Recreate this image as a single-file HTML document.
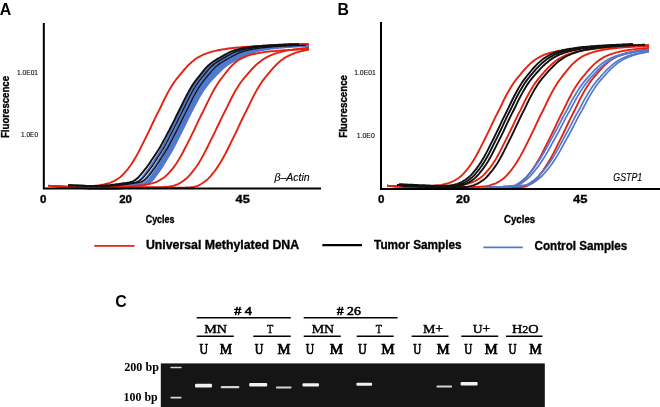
<!DOCTYPE html>
<html><head><meta charset="utf-8">
<style>
html,body{margin:0;padding:0;background:#fff;}
body{width:660px;height:407px;overflow:hidden;position:relative;}
svg{position:absolute;left:0;top:0;}
.sans{font-family:"Liberation Sans",sans-serif;}
.serif{font-family:"Liberation Serif",serif;}
</style></head><body>
<svg width="660" height="407" viewBox="0 0 660 407">
<g class="sans" font-weight="bold">
<text x="-0.2" y="15.3" font-size="15.9">A</text>
<text x="337.4" y="15.3" font-size="15.9">B</text>
<text x="115.3" y="306.8" font-size="15.9">C</text>
</g>
<g class="sans" fill="#000" stroke="#000" stroke-width="0.35" paint-order="stroke">
<text x="0" y="0" font-size="10.6" font-weight="bold" transform="translate(9.3 138) rotate(-90)" textLength="62" lengthAdjust="spacingAndGlyphs">Fluorescence</text>
<text x="0" y="0" font-size="10.6" font-weight="bold" transform="translate(346.6 137.8) rotate(-90)" textLength="62.8" lengthAdjust="spacingAndGlyphs">Fluorescence</text>
<text x="17" y="75.3" font-size="8" stroke-width="0.1" textLength="21" lengthAdjust="spacingAndGlyphs">1.0E01</text>
<text x="21" y="137" font-size="8" stroke-width="0.1" textLength="17" lengthAdjust="spacingAndGlyphs">1.0E0</text>
<text x="354.2" y="75.4" font-size="8" stroke-width="0.1" textLength="21.6" lengthAdjust="spacingAndGlyphs">1.0E01</text>
<text x="356.8" y="137.5" font-size="8" stroke-width="0.1" textLength="18" lengthAdjust="spacingAndGlyphs">1.0E0</text>
<g font-weight="bold" font-size="11.6">
<text x="40" y="203">0</text>
<text x="119.2" y="203" textLength="12.8" lengthAdjust="spacingAndGlyphs">20</text>
<text x="235.6" y="203" textLength="14.2" lengthAdjust="spacingAndGlyphs">45</text>
<text x="377.9" y="203">0</text>
<text x="456" y="203" textLength="14" lengthAdjust="spacingAndGlyphs">20</text>
<text x="573" y="203" textLength="14.4" lengthAdjust="spacingAndGlyphs">45</text>
</g>
<g font-weight="bold" font-size="10.4">
<text x="145.7" y="222.5" textLength="28.8" lengthAdjust="spacingAndGlyphs">Cycles</text>
<text x="504" y="222.7" textLength="31.2" lengthAdjust="spacingAndGlyphs">Cycles</text>
</g>
<g font-style="italic" font-size="10" stroke-width="0.12">
<text x="274.4" y="181" textLength="35.3" lengthAdjust="spacingAndGlyphs">&#946;&#8211;Actin</text>
<text x="613.3" y="180.8" textLength="29" lengthAdjust="spacingAndGlyphs">GSTP1</text>
</g>
<!-- legend -->
<g font-weight="bold" font-size="12.6">
<text x="145.9" y="248.9" textLength="153.2" lengthAdjust="spacingAndGlyphs">Universal Methylated DNA</text>
<text x="374.1" y="248.9" textLength="87.5" lengthAdjust="spacingAndGlyphs">Tumor Samples</text>
<text x="534.5" y="249.8" textLength="92.8" lengthAdjust="spacingAndGlyphs">Control Samples</text>
</g>
</g>
<g stroke-width="2.2" fill="none">
<path d="M94.3 245.9 H134.5" stroke="#e4220f" stroke-width="1.9"/>
<path d="M322.3 245.2 H362" stroke="#000"/>
<path d="M483.3 247.4 H522.8" stroke="#5079cf" stroke-width="1.7"/>
</g>
<!-- curves -->
<g>
<polyline points="196.0,82.2 197.5,80.2 199.0,78.3 200.5,76.6 202.0,74.9 203.5,73.2 205.0,71.5 206.5,69.9 208.0,68.3 209.5,66.8 211.0,65.3 212.5,64.0 214.0,62.7 215.5,61.5 217.0,60.4 218.5,59.3 220.0,58.3 221.5,57.4 223.0,56.7 224.5,55.9 226.0,55.2 227.5,54.6 229.0,54.0 230.5,53.5 232.0,53.0 233.5,52.6 235.0,52.1 236.5,51.7 238.0,51.3 239.5,51.0 241.0,50.7 242.5,50.4 244.0,50.1 245.5,49.8 247.0,49.6 248.5,49.4 250.0,49.1 251.5,48.9 253.0,48.7 254.5,48.5 256.0,48.4 257.5,48.2 259.0,48.0 260.5,47.9 262.0,47.7 263.5,47.6 265.0,47.5 266.5,47.3 268.0,47.2 269.5,47.1 271.0,47.0 272.5,46.9 274.0,46.8 275.5,46.7 277.0,46.6 278.5,46.5 280.0,46.4 281.5,46.4 283.0,46.3 284.5,46.2 286.0,46.1 287.5,46.1 289.0,46.0 290.5,45.9 292.0,45.8 293.5,45.8 295.0,45.7 296.5,45.6 298.0,45.6 299.5,45.5 301.0,45.4 302.5,45.4 304.0,45.3 305.5,45.3 307.0,45.2 308.5,45.2 309.0,45.1" fill="none" stroke="#e4220f" stroke-width="1.4" stroke-linejoin="round" stroke-linecap="butt"/>
<polyline points="75.0,187.9 76.0,187.9 77.0,187.9 78.0,187.9 79.0,187.9 80.0,187.9 81.0,187.9 82.0,187.9 83.0,188.0 84.0,188.0 85.0,188.0 86.0,188.0 87.0,188.1 88.0,188.1 89.0,188.2 90.0,188.2 91.0,188.3 92.0,188.3 93.0,188.3 94.0,188.4 95.0,188.4 96.0,188.5 97.0,188.5 98.0,188.5 99.0,188.6 100.0,188.6 101.0,188.6 102.0,188.6 103.0,188.6 104.0,188.7 105.0,188.7 106.0,188.7 107.0,188.7 108.0,188.7 109.0,188.7 110.0,188.8 111.0,188.8 112.0,188.8 113.0,188.8 114.0,188.8 115.0,188.7 116.0,188.7 117.0,188.6 118.0,188.6 119.0,188.5 120.0,188.4 121.0,188.3 122.0,188.3 123.0,188.2 124.0,188.1 125.0,188.0 126.0,187.8 127.0,187.7 128.0,187.6 129.0,187.4 130.0,187.3 131.0,187.2 132.0,187.0 133.0,186.9 134.0,186.7 135.0,186.5 136.0,186.4 137.0,186.2 138.0,186.0 139.0,185.9 140.0,185.7 141.0,185.6 142.0,185.4 143.0,185.2 144.0,185.1 145.0,184.8 146.0,184.6 147.0,184.2 148.0,183.7 149.0,183.0 150.0,182.3 151.0,181.5 152.0,180.6 153.0,179.5 154.0,178.3 155.0,176.9 156.0,175.5 157.0,174.2 158.0,172.8 159.0,171.5 160.0,170.0 161.0,168.6 162.0,167.1 163.0,165.5 164.0,163.8 165.0,162.1 166.0,160.4 167.0,158.7 168.0,157.1 169.0,155.4 170.0,153.8 171.0,152.2 172.0,150.4 173.0,148.6 174.0,146.7 175.0,144.7 176.0,142.7 177.0,140.7 178.0,138.7 179.0,136.8 180.0,134.8 181.0,132.8 182.0,130.8 183.0,128.8 184.0,126.8 185.0,124.7 186.0,122.7 187.0,120.6 188.0,118.5 189.0,116.5 190.0,114.6 191.0,112.6 192.0,110.7 193.0,108.8 194.0,106.9 195.0,105.0 196.0,103.1 197.0,101.2 198.0,99.4 199.0,97.6 200.0,95.8 201.0,94.2 202.0,92.6 203.0,91.0 204.0,89.5 205.0,88.1 206.0,86.7 207.0,85.4 208.0,84.1 209.0,82.9 210.0,81.7 211.0,80.6 212.0,79.5 213.0,78.4 214.0,77.4 215.0,76.3 216.0,75.3 217.0,74.2 218.0,73.2 219.0,72.2 220.0,71.2 221.0,70.2 222.0,69.2 223.0,68.3 224.0,67.4 225.0,66.6 226.0,65.8 227.0,65.2 228.0,64.5 229.0,63.9 230.0,63.2 231.0,62.7 232.0,62.1 233.0,61.5 234.0,61.0 235.0,60.5 236.0,60.0 237.0,59.5 238.0,59.0 239.0,58.5 240.0,58.1 241.0,57.6 242.0,57.1 243.0,56.7 244.0,56.2 245.0,55.7 246.0,55.3 247.0,54.8 248.0,54.3 249.0,53.9 250.0,53.5 251.0,53.1 252.0,52.7 253.0,52.4 254.0,52.1 255.0,51.8 256.0,51.5 257.0,51.3 258.0,51.0 259.0,50.8 260.0,50.5 261.0,50.3 262.0,50.1 263.0,49.9 264.0,49.7 265.0,49.5 266.0,49.4 267.0,49.2 268.0,49.0 269.0,48.9 270.0,48.8 271.0,48.6 272.0,48.5 273.0,48.4 274.0,48.3 275.0,48.1 276.0,48.0 277.0,47.9 278.0,47.8 279.0,47.7 280.0,47.6 281.0,47.5 282.0,47.4 283.0,47.4 284.0,47.3 285.0,47.2 286.0,47.1 287.0,47.0 288.0,47.0 289.0,46.9 290.0,46.8 291.0,46.8 292.0,46.7 293.0,46.6 294.0,46.6 295.0,46.5 296.0,46.5 297.0,46.4 298.0,46.3 299.0,46.3 300.0,46.2 301.0,46.2 302.0,46.1 303.0,46.1 304.0,46.0 305.0,46.0 306.0,45.9 307.0,45.9 308.0,45.8 309.0,45.8" fill="none" stroke="#5079cf" stroke-width="2.0" stroke-linejoin="round" stroke-linecap="butt"/>
<polyline points="75.0,187.9 76.0,187.9 77.0,187.9 78.0,187.9 79.0,187.9 80.0,187.9 81.0,187.9 82.0,188.0 83.0,188.0 84.0,188.0 85.0,188.1 86.0,188.1 87.0,188.1 88.0,188.2 89.0,188.2 90.0,188.3 91.0,188.3 92.0,188.4 93.0,188.4 94.0,188.4 95.0,188.5 96.0,188.5 97.0,188.5 98.0,188.6 99.0,188.6 100.0,188.6 101.0,188.6 102.0,188.6 103.0,188.7 104.0,188.7 105.0,188.7 106.0,188.7 107.0,188.7 108.0,188.7 109.0,188.8 110.0,188.8 111.0,188.8 112.0,188.8 113.0,188.7 114.0,188.7 115.0,188.7 116.0,188.6 117.0,188.5 118.0,188.5 119.0,188.4 120.0,188.3 121.0,188.2 122.0,188.1 123.0,188.0 124.0,187.9 125.0,187.8 126.0,187.7 127.0,187.5 128.0,187.4 129.0,187.3 130.0,187.1 131.0,187.0 132.0,186.8 133.0,186.7 134.0,186.5 135.0,186.3 136.0,186.2 137.0,186.0 138.0,185.8 139.0,185.7 140.0,185.5 141.0,185.4 142.0,185.2 143.0,185.0 144.0,184.8 145.0,184.5 146.0,184.1 147.0,183.5 148.0,182.9 149.0,182.1 150.0,181.3 151.0,180.4 152.0,179.3 153.0,178.0 154.0,176.6 155.0,175.2 156.0,173.9 157.0,172.6 158.0,171.2 159.0,169.8 160.0,168.3 161.0,166.8 162.0,165.2 163.0,163.5 164.0,161.8 165.0,160.1 166.0,158.4 167.0,156.8 168.0,155.2 169.0,153.6 170.0,151.9 171.0,150.1 172.0,148.3 173.0,146.3 174.0,144.4 175.0,142.4 176.0,140.4 177.0,138.4 178.0,136.5 179.0,134.5 180.0,132.5 181.0,130.5 182.0,128.5 183.0,126.5 184.0,124.4 185.0,122.3 186.0,120.2 187.0,118.2 188.0,116.2 189.0,114.2 190.0,112.2 191.0,110.2 192.0,108.3 193.0,106.4 194.0,104.5 195.0,102.5 196.0,100.6 197.0,98.7 198.0,96.9 199.0,95.2 200.0,93.5 201.0,91.8 202.0,90.3 203.0,88.7 204.0,87.3 205.0,85.9 206.0,84.5 207.0,83.3 208.0,82.0 209.0,80.9 210.0,79.7 211.0,78.6 212.0,77.5 213.0,76.4 214.0,75.3 215.0,74.3 216.0,73.2 217.0,72.1 218.0,71.1 219.0,70.0 220.0,69.1 221.0,68.1 222.0,67.2 223.0,66.4 224.0,65.6 225.0,64.9 226.0,64.2 227.0,63.6 228.0,63.0 229.0,62.4 230.0,61.8 231.0,61.2 232.0,60.7 233.0,60.2 234.0,59.6 235.0,59.1 236.0,58.6 237.0,58.1 238.0,57.7 239.0,57.2 240.0,56.7 241.0,56.2 242.0,55.7 243.0,55.2 244.0,54.8 245.0,54.3 246.0,53.9 247.0,53.4 248.0,53.0 249.0,52.6 250.0,52.3 251.0,52.0 252.0,51.7 253.0,51.4 254.0,51.2 255.0,50.9 256.0,50.7 257.0,50.4 258.0,50.2 259.0,50.0 260.0,49.8 261.0,49.6 262.0,49.4 263.0,49.2 264.0,49.1 265.0,48.9 266.0,48.8 267.0,48.6 268.0,48.5 269.0,48.4 270.0,48.3 271.0,48.1 272.0,48.0 273.0,47.9 274.0,47.8 275.0,47.7 276.0,47.6 277.0,47.5 278.0,47.4 279.0,47.3 280.0,47.2 281.0,47.2 282.0,47.1 283.0,47.0 284.0,46.9 285.0,46.9 286.0,46.8 287.0,46.7 288.0,46.7 289.0,46.6 290.0,46.5 291.0,46.5 292.0,46.4 293.0,46.3 294.0,46.3 295.0,46.2 296.0,46.2 297.0,46.1 298.0,46.1 299.0,46.0 300.0,46.0 301.0,45.9 302.0,45.9 303.0,45.8 304.0,45.8 305.0,45.7 306.0,45.7 307.0,45.7 308.0,45.6 309.0,45.6" fill="none" stroke="#5079cf" stroke-width="2.0" stroke-linejoin="round" stroke-linecap="butt"/>
<polyline points="75.0,187.9 76.0,187.9 77.0,187.9 78.0,187.9 79.0,187.9 80.0,187.9 81.0,188.0 82.0,188.0 83.0,188.0 84.0,188.1 85.0,188.1 86.0,188.1 87.0,188.2 88.0,188.2 89.0,188.3 90.0,188.3 91.0,188.4 92.0,188.4 93.0,188.5 94.0,188.5 95.0,188.5 96.0,188.5 97.0,188.6 98.0,188.6 99.0,188.6 100.0,188.6 101.0,188.7 102.0,188.7 103.0,188.7 104.0,188.7 105.0,188.7 106.0,188.7 107.0,188.7 108.0,188.8 109.0,188.8 110.0,188.8 111.0,188.8 112.0,188.7 113.0,188.7 114.0,188.7 115.0,188.6 116.0,188.5 117.0,188.5 118.0,188.4 119.0,188.3 120.0,188.2 121.0,188.1 122.0,188.0 123.0,187.9 124.0,187.8 125.0,187.7 126.0,187.5 127.0,187.4 128.0,187.2 129.0,187.1 130.0,187.0 131.0,186.8 132.0,186.6 133.0,186.5 134.0,186.3 135.0,186.1 136.0,186.0 137.0,185.8 138.0,185.7 139.0,185.5 140.0,185.4 141.0,185.2 142.0,185.0 143.0,184.7 144.0,184.5 145.0,184.0 146.0,183.5 147.0,182.8 148.0,182.1 149.0,181.3 150.0,180.3 151.0,179.2 152.0,177.9 153.0,176.5 154.0,175.2 155.0,173.8 156.0,172.5 157.0,171.1 158.0,169.7 159.0,168.2 160.0,166.7 161.0,165.1 162.0,163.4 163.0,161.7 164.0,160.0 165.0,158.3 166.0,156.7 167.0,155.1 168.0,153.5 169.0,151.8 170.0,150.1 171.0,148.2 172.0,146.3 173.0,144.3 174.0,142.3 175.0,140.3 176.0,138.4 177.0,136.4 178.0,134.4 179.0,132.4 180.0,130.4 181.0,128.4 182.0,126.4 183.0,124.3 184.0,122.2 185.0,120.1 186.0,118.1 187.0,116.0 188.0,114.0 189.0,112.0 190.0,110.0 191.0,108.1 192.0,106.1 193.0,104.2 194.0,102.2 195.0,100.2 196.0,98.3 197.0,96.5 198.0,94.7 199.0,93.0 200.0,91.3 201.0,89.7 202.0,88.2 203.0,86.7 204.0,85.3 205.0,83.9 206.0,82.7 207.0,81.4 208.0,80.2 209.0,79.1 210.0,77.9 211.0,76.8 212.0,75.7 213.0,74.6 214.0,73.5 215.0,72.4 216.0,71.3 217.0,70.2 218.0,69.2 219.0,68.2 220.0,67.3 221.0,66.4 222.0,65.6 223.0,64.9 224.0,64.2 225.0,63.5 226.0,62.9 227.0,62.3 228.0,61.7 229.0,61.1 230.0,60.6 231.0,60.0 232.0,59.5 233.0,59.0 234.0,58.5 235.0,58.0 236.0,57.5 237.0,57.0 238.0,56.5 239.0,56.0 240.0,55.5 241.0,55.0 242.0,54.5 243.0,54.0 244.0,53.6 245.0,53.1 246.0,52.7 247.0,52.4 248.0,52.0 249.0,51.7 250.0,51.5 251.0,51.2 252.0,50.9 253.0,50.7 254.0,50.4 255.0,50.2 256.0,50.0 257.0,49.8 258.0,49.6 259.0,49.4 260.0,49.2 261.0,49.0 262.0,48.9 263.0,48.7 264.0,48.6 265.0,48.5 266.0,48.3 267.0,48.2 268.0,48.1 269.0,48.0 270.0,47.9 271.0,47.7 272.0,47.6 273.0,47.5 274.0,47.5 275.0,47.4 276.0,47.3 277.0,47.2 278.0,47.1 279.0,47.0 280.0,46.9 281.0,46.9 282.0,46.8 283.0,46.7 284.0,46.7 285.0,46.6 286.0,46.5 287.0,46.5 288.0,46.4 289.0,46.3 290.0,46.3 291.0,46.2 292.0,46.2 293.0,46.1 294.0,46.1 295.0,46.0 296.0,46.0 297.0,45.9 298.0,45.9 299.0,45.8 300.0,45.8 301.0,45.7 302.0,45.7 303.0,45.6 304.0,45.6 305.0,45.6 306.0,45.5 307.0,45.5 308.0,45.5 309.0,45.4" fill="none" stroke="#5079cf" stroke-width="2.0" stroke-linejoin="round" stroke-linecap="butt"/>
<polyline points="75.0,187.9 76.0,187.9 77.0,187.9 78.0,187.9 79.0,188.0 80.0,188.0 81.0,188.0 82.0,188.0 83.0,188.1 84.0,188.1 85.0,188.2 86.0,188.2 87.0,188.3 88.0,188.3 89.0,188.3 90.0,188.4 91.0,188.4 92.0,188.5 93.0,188.5 94.0,188.5 95.0,188.6 96.0,188.6 97.0,188.6 98.0,188.6 99.0,188.6 100.0,188.7 101.0,188.7 102.0,188.7 103.0,188.7 104.0,188.7 105.0,188.7 106.0,188.7 107.0,188.8 108.0,188.8 109.0,188.8 110.0,188.8 111.0,188.7 112.0,188.7 113.0,188.6 114.0,188.6 115.0,188.5 116.0,188.4 117.0,188.4 118.0,188.3 119.0,188.2 120.0,188.1 121.0,188.0 122.0,187.9 123.0,187.8 124.0,187.6 125.0,187.5 126.0,187.4 127.0,187.2 128.0,187.1 129.0,186.9 130.0,186.8 131.0,186.6 132.0,186.5 133.0,186.3 134.0,186.1 135.0,185.9 136.0,185.8 137.0,185.6 138.0,185.5 139.0,185.3 140.0,185.2 141.0,185.0 142.0,184.7 143.0,184.4 144.0,184.0 145.0,183.4 146.0,182.7 147.0,182.0 148.0,181.2 149.0,180.2 150.0,179.0 151.0,177.7 152.0,176.4 153.0,175.0 154.0,173.7 155.0,172.3 156.0,171.0 157.0,169.5 158.0,168.1 159.0,166.6 160.0,164.9 161.0,163.3 162.0,161.6 163.0,159.9 164.0,158.2 165.0,156.6 166.0,155.0 167.0,153.4 168.0,151.7 169.0,150.0 170.0,148.1 171.0,146.2 172.0,144.2 173.0,142.2 174.0,140.2 175.0,138.3 176.0,136.3 177.0,134.3 178.0,132.3 179.0,130.3 180.0,128.3 181.0,126.3 182.0,124.2 183.0,122.1 184.0,120.0 185.0,117.9 186.0,115.9 187.0,113.8 188.0,111.8 189.0,109.8 190.0,107.8 191.0,105.8 192.0,103.9 193.0,101.8 194.0,99.9 195.0,97.9 196.0,96.0 197.0,94.3 198.0,92.5 199.0,90.8 200.0,89.2 201.0,87.6 202.0,86.1 203.0,84.7 204.0,83.4 205.0,82.1 206.0,80.8 207.0,79.6 208.0,78.4 209.0,77.2 210.0,76.1 211.0,75.0 212.0,73.8 213.0,72.7 214.0,71.5 215.0,70.4 216.0,69.4 217.0,68.3 218.0,67.4 219.0,66.5 220.0,65.7 221.0,64.9 222.0,64.2 223.0,63.5 224.0,62.9 225.0,62.2 226.0,61.6 227.0,61.0 228.0,60.4 229.0,59.9 230.0,59.3 231.0,58.8 232.0,58.3 233.0,57.8 234.0,57.3 235.0,56.7 236.0,56.2 237.0,55.7 238.0,55.2 239.0,54.7 240.0,54.2 241.0,53.7 242.0,53.3 243.0,52.9 244.0,52.5 245.0,52.1 246.0,51.8 247.0,51.5 248.0,51.2 249.0,51.0 250.0,50.7 251.0,50.4 252.0,50.2 253.0,50.0 254.0,49.8 255.0,49.6 256.0,49.4 257.0,49.2 258.0,49.0 259.0,48.9 260.0,48.7 261.0,48.6 262.0,48.4 263.0,48.3 264.0,48.2 265.0,48.0 266.0,47.9 267.0,47.8 268.0,47.7 269.0,47.6 270.0,47.5 271.0,47.4 272.0,47.3 273.0,47.2 274.0,47.1 275.0,47.0 276.0,47.0 277.0,46.9 278.0,46.8 279.0,46.7 280.0,46.7 281.0,46.6 282.0,46.5 283.0,46.5 284.0,46.4 285.0,46.3 286.0,46.3 287.0,46.2 288.0,46.2 289.0,46.1 290.0,46.1 291.0,46.0 292.0,45.9 293.0,45.9 294.0,45.8 295.0,45.8 296.0,45.8 297.0,45.7 298.0,45.7 299.0,45.6 300.0,45.6 301.0,45.5 302.0,45.5 303.0,45.5 304.0,45.4 305.0,45.4 306.0,45.4 307.0,45.3 308.0,45.3 309.0,45.3" fill="none" stroke="#5079cf" stroke-width="2.0" stroke-linejoin="round" stroke-linecap="butt"/>
<polyline points="75.0,187.9 76.0,187.9 77.0,187.9 78.0,188.0 79.0,188.0 80.0,188.0 81.0,188.0 82.0,188.1 83.0,188.1 84.0,188.2 85.0,188.2 86.0,188.3 87.0,188.3 88.0,188.3 89.0,188.4 90.0,188.4 91.0,188.5 92.0,188.5 93.0,188.5 94.0,188.6 95.0,188.6 96.0,188.6 97.0,188.6 98.0,188.6 99.0,188.7 100.0,188.7 101.0,188.7 102.0,188.7 103.0,188.7 104.0,188.7 105.0,188.7 106.0,188.8 107.0,188.8 108.0,188.8 109.0,188.8 110.0,188.7 111.0,188.7 112.0,188.6 113.0,188.6 114.0,188.5 115.0,188.4 116.0,188.4 117.0,188.3 118.0,188.2 119.0,188.1 120.0,188.0 121.0,187.9 122.0,187.8 123.0,187.6 124.0,187.5 125.0,187.4 126.0,187.2 127.0,187.1 128.0,186.9 129.0,186.8 130.0,186.6 131.0,186.5 132.0,186.3 133.0,186.1 134.0,186.0 135.0,185.8 136.0,185.7 137.0,185.5 138.0,185.4 139.0,185.2 140.0,185.0 141.0,184.7 142.0,184.4 143.0,184.0 144.0,183.5 145.0,182.8 146.0,182.1 147.0,181.3 148.0,180.3 149.0,179.2 150.0,177.9 151.0,176.5 152.0,175.2 153.0,173.9 154.0,172.5 155.0,171.2 156.0,169.7 157.0,168.3 158.0,166.8 159.0,165.2 160.0,163.5 161.0,161.8 162.0,160.1 163.0,158.5 164.0,156.8 165.0,155.2 166.0,153.6 167.0,152.0 168.0,150.3 169.0,148.4 170.0,146.5 171.0,144.5 172.0,142.5 173.0,140.6 174.0,138.6 175.0,136.6 176.0,134.7 177.0,132.7 178.0,130.7 179.0,128.7 180.0,126.6 181.0,124.5 182.0,122.4 183.0,120.3 184.0,118.3 185.0,116.2 186.0,114.1 187.0,112.1 188.0,110.1 189.0,108.1 190.0,106.1 191.0,104.1 192.0,102.1 193.0,100.1 194.0,98.1 195.0,96.2 196.0,94.4 197.0,92.6 198.0,90.9 199.0,89.2 200.0,87.6 201.0,86.1 202.0,84.7 203.0,83.3 204.0,82.0 205.0,80.7 206.0,79.5 207.0,78.3 208.0,77.1 209.0,76.0 210.0,74.8 211.0,73.6 212.0,72.5 213.0,71.3 214.0,70.2 215.0,69.1 216.0,68.1 217.0,67.2 218.0,66.3 219.0,65.5 220.0,64.7 221.0,64.0 222.0,63.3 223.0,62.6 224.0,62.0 225.0,61.4 226.0,60.8 227.0,60.2 228.0,59.7 229.0,59.1 230.0,58.6 231.0,58.1 232.0,57.5 233.0,57.0 234.0,56.5 235.0,56.0 236.0,55.4 237.0,54.9 238.0,54.4 239.0,53.9 240.0,53.5 241.0,53.0 242.0,52.6 243.0,52.2 244.0,51.9 245.0,51.6 246.0,51.3 247.0,51.0 248.0,50.8 249.0,50.5 250.0,50.3 251.0,50.0 252.0,49.8 253.0,49.6 254.0,49.4 255.0,49.2 256.0,49.0 257.0,48.9 258.0,48.7 259.0,48.6 260.0,48.4 261.0,48.3 262.0,48.2 263.0,48.0 264.0,47.9 265.0,47.8 266.0,47.7 267.0,47.6 268.0,47.5 269.0,47.4 270.0,47.3 271.0,47.2 272.0,47.1 273.0,47.0 274.0,47.0 275.0,46.9 276.0,46.8 277.0,46.7 278.0,46.7 279.0,46.6 280.0,46.5 281.0,46.5 282.0,46.4 283.0,46.3 284.0,46.3 285.0,46.2 286.0,46.1 287.0,46.1 288.0,46.0 289.0,46.0 290.0,45.9 291.0,45.9 292.0,45.8 293.0,45.8 294.0,45.7 295.0,45.7 296.0,45.7 297.0,45.6 298.0,45.6 299.0,45.5 300.0,45.5 301.0,45.4 302.0,45.4 303.0,45.4 304.0,45.3 305.0,45.3 306.0,45.3 307.0,45.2 308.0,45.2 309.0,45.2" fill="none" stroke="#5079cf" stroke-width="2.0" stroke-linejoin="round" stroke-linecap="butt"/>
<polyline points="75.0,187.2 76.0,187.2 77.0,187.2 78.0,187.3 79.0,187.3 80.0,187.4 81.0,187.4 82.0,187.4 83.0,187.5 84.0,187.5 85.0,187.6 86.0,187.6 87.0,187.7 88.0,187.7 89.0,187.7 90.0,187.8 91.0,187.8 92.0,187.8 93.0,187.8 94.0,187.8 95.0,187.9 96.0,187.9 97.0,187.9 98.0,187.9 99.0,187.9 100.0,187.9 101.0,188.0 102.0,188.0 103.0,188.0 104.0,188.0 105.0,188.0 106.0,188.0 107.0,187.9 108.0,187.9 109.0,187.8 110.0,187.8 111.0,187.7 112.0,187.6 113.0,187.6 114.0,187.5 115.0,187.4 116.0,187.3 117.0,187.2 118.0,187.1 119.0,187.0 120.0,186.8 121.0,186.7 122.0,186.6 123.0,186.4 124.0,186.3 125.0,186.2 126.0,186.0 127.0,185.9 128.0,185.7 129.0,185.5 130.0,185.4 131.0,185.2 132.0,185.1 133.0,184.9 134.0,184.8 135.0,184.6 136.0,184.4 137.0,184.2 138.0,184.0 139.0,183.7 140.0,183.3 141.0,182.8 142.0,182.1 143.0,181.4 144.0,180.6 145.0,179.7 146.0,178.6 147.0,177.3 148.0,176.0 149.0,174.7 150.0,173.4 151.0,172.1 152.0,170.7 153.0,169.3 154.0,167.9 155.0,166.4 156.0,164.9 157.0,163.2 158.0,161.6 159.0,159.9 160.0,158.3 161.0,156.7 162.0,155.1 163.0,153.5 164.0,151.9 165.0,150.2 166.0,148.4 167.0,146.5 168.0,144.5 169.0,142.6 170.0,140.6 171.0,138.7 172.0,136.7 173.0,134.8 174.0,132.8 175.0,130.8 176.0,128.8 177.0,126.8 178.0,124.7 179.0,122.6 180.0,120.5 181.0,118.4 182.0,116.3 183.0,114.3 184.0,112.2 185.0,110.2 186.0,108.1 187.0,106.1 188.0,104.1 189.0,102.0 190.0,99.9 191.0,97.9 192.0,95.9 193.0,94.0 194.0,92.2 195.0,90.4 196.0,88.7 197.0,87.1 198.0,85.5 199.0,84.0 200.0,82.6 201.0,81.3 202.0,79.9 203.0,78.7 204.0,77.4 205.0,76.2 206.0,75.0 207.0,73.8 208.0,72.6 209.0,71.4 210.0,70.2 211.0,69.0 212.0,68.0 213.0,66.9 214.0,66.0 215.0,65.1 216.0,64.3 217.0,63.6 218.0,62.8 219.0,62.1 220.0,61.5 221.0,60.8 222.0,60.2 223.0,59.6 224.0,59.0 225.0,58.5 226.0,57.9 227.0,57.3 228.0,56.8 229.0,56.3 230.0,55.7 231.0,55.2 232.0,54.6 233.0,54.1 234.0,53.5 235.0,53.0 236.0,52.6 237.0,52.1 238.0,51.7 239.0,51.4 240.0,51.0 241.0,50.7 242.0,50.4 243.0,50.2 244.0,49.9 245.0,49.6 246.0,49.4 247.0,49.2 248.0,48.9 249.0,48.7 250.0,48.5 251.0,48.4 252.0,48.2 253.0,48.0 254.0,47.9 255.0,47.7 256.0,47.6 257.0,47.5 258.0,47.3 259.0,47.2 260.0,47.1 261.0,47.0 262.0,46.9 263.0,46.8 264.0,46.7 265.0,46.6 266.0,46.5 267.0,46.4 268.0,46.3 269.0,46.2 270.0,46.1 271.0,46.1 272.0,46.0 273.0,45.9 274.0,45.8 275.0,45.8 276.0,45.7 277.0,45.6 278.0,45.6 279.0,45.5 280.0,45.4 281.0,45.4 282.0,45.3 283.0,45.3 284.0,45.2 285.0,45.2 286.0,45.1 287.0,45.1 288.0,45.0 289.0,45.0 290.0,44.9 291.0,44.9 292.0,44.8 293.0,44.8 294.0,44.8 295.0,44.7 296.0,44.7 297.0,44.6 298.0,44.6 299.0,44.6 300.0,44.5 301.0,44.5 302.0,44.5 303.0,44.4 304.0,44.4 305.0,44.4 306.0,44.4 307.0,44.3 308.0,44.3 309.0,44.3" fill="none" stroke="#5079cf" stroke-width="2.4" stroke-linejoin="round" stroke-linecap="butt"/>
<polyline points="75.0,187.4 76.0,187.4 77.0,187.5 78.0,187.5 79.0,187.6 80.0,187.6 81.0,187.7 82.0,187.7 83.0,187.7 84.0,187.7 85.0,187.8 86.0,187.8 87.0,187.8 88.0,187.8 89.0,187.8 90.0,187.9 91.0,187.9 92.0,187.9 93.0,187.9 94.0,187.9 95.0,187.9 96.0,188.0 97.0,188.0 98.0,188.0 99.0,188.0 100.0,188.0 101.0,188.0 102.0,187.9 103.0,187.9 104.0,187.8 105.0,187.8 106.0,187.7 107.0,187.6 108.0,187.5 109.0,187.5 110.0,187.4 111.0,187.3 112.0,187.2 113.0,187.1 114.0,187.0 115.0,186.8 116.0,186.7 117.0,186.6 118.0,186.4 119.0,186.3 120.0,186.2 121.0,186.0 122.0,185.9 123.0,185.7 124.0,185.6 125.0,185.4 126.0,185.2 127.0,185.1 128.0,184.9 129.0,184.8 130.0,184.6 131.0,184.5 132.0,184.3 133.0,184.1 134.0,183.8 135.0,183.5 136.0,183.0 137.0,182.4 138.0,181.7 139.0,181.0 140.0,180.2 141.0,179.2 142.0,178.0 143.0,176.7 144.0,175.4 145.0,174.1 146.0,172.9 147.0,171.6 148.0,170.3 149.0,168.9 150.0,167.5 151.0,166.0 152.0,164.5 153.0,162.9 154.0,161.3 155.0,159.6 156.0,158.0 157.0,156.5 158.0,154.9 159.0,153.4 160.0,151.8 161.0,150.1 162.0,148.4 163.0,146.5 164.0,144.6 165.0,142.7 166.0,140.8 167.0,138.9 168.0,137.0 169.0,135.1 170.0,133.1 171.0,131.2 172.0,129.2 173.0,127.2 174.0,125.2 175.0,123.1 176.0,121.1 177.0,119.0 178.0,116.9 179.0,114.9 180.0,112.8 181.0,110.8 182.0,108.7 183.0,106.7 184.0,104.7 185.0,102.6 186.0,100.5 187.0,98.4 188.0,96.4 189.0,94.5 190.0,92.7 191.0,90.8 192.0,89.1 193.0,87.4 194.0,85.8 195.0,84.3 196.0,82.8 197.0,81.4 198.0,80.1 199.0,78.8 200.0,77.5 201.0,76.2 202.0,75.0 203.0,73.8 204.0,72.5 205.0,71.3 206.0,70.1 207.0,68.9 208.0,67.8 209.0,66.8 210.0,65.8 211.0,65.0 212.0,64.1 213.0,63.4 214.0,62.6 215.0,61.9 216.0,61.3 217.0,60.6 218.0,60.0 219.0,59.4 220.0,58.8 221.0,58.2 222.0,57.6 223.0,57.1 224.0,56.5 225.0,56.0 226.0,55.4 227.0,54.8 228.0,54.3 229.0,53.7 230.0,53.2 231.0,52.7 232.0,52.3 233.0,51.8 234.0,51.5 235.0,51.1 236.0,50.8 237.0,50.5 238.0,50.2 239.0,49.9 240.0,49.7 241.0,49.4 242.0,49.2 243.0,48.9 244.0,48.7 245.0,48.5 246.0,48.4 247.0,48.2 248.0,48.0 249.0,47.9 250.0,47.7 251.0,47.6 252.0,47.4 253.0,47.3 254.0,47.2 255.0,47.1 256.0,46.9 257.0,46.8 258.0,46.7 259.0,46.6 260.0,46.5 261.0,46.4 262.0,46.3 263.0,46.3 264.0,46.2 265.0,46.1 266.0,46.0 267.0,45.9 268.0,45.9 269.0,45.8 270.0,45.7 271.0,45.7 272.0,45.6 273.0,45.5 274.0,45.5 275.0,45.4 276.0,45.3 277.0,45.3 278.0,45.2 279.0,45.2 280.0,45.1 281.0,45.1 282.0,45.0 283.0,45.0 284.0,44.9 285.0,44.9 286.0,44.8 287.0,44.8 288.0,44.8 289.0,44.7 290.0,44.7 291.0,44.6 292.0,44.6 293.0,44.6 294.0,44.5 295.0,44.5 296.0,44.5 297.0,44.4 298.0,44.4 299.0,44.4 300.0,44.4 301.0,44.3 302.0,44.3 303.0,44.3 304.0,44.3 305.0,44.3 306.0,44.2 307.0,44.2 308.0,44.2 309.0,44.2" fill="none" stroke="#5079cf" stroke-width="2.4" stroke-linejoin="round" stroke-linecap="butt"/>
<polyline points="48.5,185.9 50.0,186.0 51.5,186.1 53.0,186.2 54.5,186.3 56.0,186.4 57.5,186.5 59.0,186.6 60.5,186.7 62.0,186.8 63.5,186.8 65.0,186.9 66.5,187.0 68.0,187.1 69.5,187.2 71.0,187.3 72.5,187.3 74.0,187.4 75.5,187.4 77.0,187.4 78.5,187.3 80.0,187.2 81.5,187.1 83.0,187.0 84.5,186.9 86.0,186.8 87.5,186.7 89.0,186.5 90.5,186.4 92.0,186.2 93.5,186.0 95.0,185.8 96.5,185.7 98.0,185.5 99.5,185.3 101.0,185.0 102.5,184.7 104.0,184.4 105.5,184.0 107.0,183.7 108.5,183.2 110.0,182.8 111.5,182.2 113.0,181.5 114.5,180.8 116.0,179.9 117.5,179.0 119.0,178.0 120.5,176.9 122.0,175.5 123.5,174.0 125.0,172.3 126.5,170.6 128.0,168.8 129.5,166.8 131.0,164.8 132.5,162.5 134.0,160.1 135.5,157.6 137.0,154.9 138.5,152.1 140.0,149.2 141.5,146.2 143.0,143.2 144.5,140.2 146.0,137.2 147.5,134.2 149.0,131.1 150.5,127.9 152.0,124.7 153.5,121.5 155.0,118.4 156.5,115.3 158.0,112.4 159.5,109.5 161.0,106.3 162.5,103.2 164.0,100.0 165.5,97.1 167.0,94.2 168.5,91.4 170.0,88.8 171.5,86.3 173.0,83.9 174.5,81.7 176.0,79.7 177.5,77.8 179.0,75.9 180.5,74.1 182.0,72.3 183.5,70.5 185.0,68.8 186.5,67.1 188.0,65.5 189.5,64.1 191.0,62.7 192.5,61.4 194.0,60.2 195.5,59.0 197.0,58.0 198.5,57.1 200.0,56.3 201.5,55.5 203.0,54.8 204.5,54.2 206.0,53.6 207.5,53.1 209.0,52.6 210.5,52.1 212.0,51.7 213.5,51.3 215.0,50.9 216.5,50.6 218.0,50.3 219.5,50.0 221.0,49.7 222.5,49.4 224.0,49.2 225.5,49.0 227.0,48.7 228.5,48.5 230.0,48.3 231.5,48.2 233.0,48.0 234.5,47.8 236.0,47.7 237.5,47.5 239.0,47.4 240.5,47.3 242.0,47.1 243.5,47.0 245.0,46.9 246.5,46.8 248.0,46.7 249.5,46.6 251.0,46.5 252.5,46.4 254.0,46.3 255.5,46.2 257.0,46.2 258.5,46.1 260.0,46.0 261.5,45.9 263.0,45.8 264.5,45.8 266.0,45.7 267.5,45.6 269.0,45.6 270.5,45.5 272.0,45.4 273.5,45.4 275.0,45.3 276.5,45.2 278.0,45.2 279.5,45.1 281.0,45.1 282.5,45.0 284.0,45.0 285.5,44.9 287.0,44.9 288.5,44.8 290.0,44.8 291.5,44.7 293.0,44.7 294.5,44.6 296.0,44.6 297.5,44.6 299.0,44.5 300.5,44.5 302.0,44.5 303.5,44.4 305.0,44.4 306.5,44.4 308.0,44.3 309.0,44.3" fill="none" stroke="#e4220f" stroke-width="1.9" stroke-linejoin="round" stroke-linecap="butt"/>
<polyline points="48.5,185.8 50.0,185.9 51.5,185.9 53.0,186.0 54.5,186.1 56.0,186.1 57.5,186.2 59.0,186.3 60.5,186.3 62.0,186.4 63.5,186.5 65.0,186.5 66.5,186.6 68.0,186.7 69.5,186.7 71.0,186.8 72.5,186.9 74.0,186.9 75.5,186.9 77.0,186.9 78.5,186.9 80.0,186.9 81.5,186.9 83.0,186.9 84.5,186.9 86.0,186.9 87.5,186.9 89.0,186.9 90.5,186.9 92.0,187.0 93.5,187.0 95.0,187.0 96.5,187.0 98.0,187.0 99.5,187.1 101.0,187.1 102.5,187.1 104.0,187.1 105.5,187.1 107.0,187.1 108.5,187.1 110.0,187.1 111.5,187.1 113.0,187.1 114.5,187.1 116.0,187.1 117.5,187.1 119.0,187.1 120.5,187.1 122.0,187.1 123.5,187.0 125.0,186.9 126.5,186.8 128.0,186.7 129.5,186.6 131.0,186.5 132.5,186.3 134.0,186.2 135.5,186.0 137.0,185.8 138.5,185.7 140.0,185.5 141.5,185.3 143.0,185.1 144.5,184.9 146.0,184.6 147.5,184.4 149.0,184.0 150.5,183.7 152.0,183.3 153.5,182.8 155.0,182.3 156.5,181.8 158.0,181.1 159.5,180.3 161.0,179.4 162.5,178.5 164.0,177.5 165.5,176.3 167.0,174.9 168.5,173.3 170.0,171.6 171.5,169.9 173.0,168.1 174.5,166.1 176.0,164.0 177.5,161.7 179.0,159.3 180.5,156.7 182.0,154.0 183.5,151.2 185.0,148.3 186.5,145.3 188.0,142.3 189.5,139.3 191.0,136.4 192.5,133.4 194.0,130.3 195.5,127.1 197.0,123.9 198.5,120.7 200.0,117.6 201.5,114.5 203.0,111.7 204.5,108.7 206.0,105.5 207.5,102.3 209.0,99.3 210.5,96.3 212.0,93.4 213.5,90.7 215.0,88.0 216.5,85.5 218.0,83.2 219.5,81.0 221.0,78.9 222.5,77.0 224.0,75.0 225.5,73.1 227.0,71.1 228.5,69.3 230.0,67.6 231.5,66.0 233.0,64.6 234.5,63.2 236.0,61.9 237.5,60.8 239.0,59.8 240.5,58.9 242.0,58.2 243.5,57.4 245.0,56.8 246.5,56.2 248.0,55.7 249.5,55.2 251.0,54.7 252.5,54.3 254.0,54.0 255.5,53.7 257.0,53.4 258.5,53.1 260.0,52.8 261.5,52.6 263.0,52.3 264.5,52.1 266.0,51.9 267.5,51.7 269.0,51.5 270.5,51.4 272.0,51.2 273.5,51.1 275.0,51.0 276.5,50.8 278.0,50.7 279.5,50.6 281.0,50.5 282.5,50.4 284.0,50.3 285.5,50.2 287.0,50.1 288.5,50.0 290.0,49.9 291.5,49.9 293.0,49.8 294.5,49.7 296.0,49.6 297.5,49.5 299.0,49.5 300.5,49.4 302.0,49.3 303.5,49.3 305.0,49.2 306.5,49.1 308.0,49.1 309.0,49.1" fill="none" stroke="#e4220f" stroke-width="1.9" stroke-linejoin="round" stroke-linecap="butt"/>
<polyline points="48.5,185.8 50.0,185.9 51.5,186.0 53.0,186.0 54.5,186.1 56.0,186.2 57.5,186.3 59.0,186.4 60.5,186.5 62.0,186.5 63.5,186.6 65.0,186.7 66.5,186.8 68.0,186.9 69.5,187.0 71.0,187.1 72.5,187.1 74.0,187.2 75.5,187.2 77.0,187.2 78.5,187.2 80.0,187.2 81.5,187.2 83.0,187.2 84.5,187.2 86.0,187.2 87.5,187.2 89.0,187.2 90.5,187.2 92.0,187.2 93.5,187.2 95.0,187.2 96.5,187.2 98.0,187.2 99.5,187.2 101.0,187.2 102.5,187.2 104.0,187.2 105.5,187.2 107.0,187.2 108.5,187.2 110.0,187.2 111.5,187.2 113.0,187.2 114.5,187.2 116.0,187.2 117.5,187.2 119.0,187.2 120.5,187.2 122.0,187.2 123.5,187.2 125.0,187.2 126.5,187.2 128.0,187.2 129.5,187.2 131.0,187.2 132.5,187.2 134.0,187.2 135.5,187.2 137.0,187.2 138.5,187.2 140.0,187.2 141.5,187.2 143.0,187.2 144.5,187.2 146.0,187.2 147.5,187.2 149.0,187.2 150.5,187.2 152.0,187.2 153.5,187.2 155.0,187.2 156.5,187.2 158.0,187.1 159.5,187.1 161.0,187.1 162.5,187.1 164.0,187.0 165.5,187.0 167.0,186.9 168.5,186.7 170.0,186.5 171.5,186.3 173.0,185.9 174.5,185.5 176.0,185.0 177.5,184.3 179.0,183.6 180.5,182.7 182.0,181.8 183.5,180.8 185.0,179.6 186.5,178.4 188.0,177.0 189.5,175.4 191.0,173.6 192.5,171.7 194.0,169.8 195.5,167.8 197.0,165.7 198.5,163.4 200.0,161.0 201.5,158.4 203.0,155.7 204.5,152.9 206.0,150.0 207.5,147.0 209.0,143.9 210.5,140.9 212.0,137.9 213.5,134.9 215.0,131.9 216.5,128.7 218.0,125.5 219.5,122.3 221.0,119.2 222.5,116.1 224.0,113.1 225.5,110.3 227.0,107.2 228.5,104.1 230.0,101.0 231.5,98.0 233.0,95.2 234.5,92.4 236.0,89.8 237.5,87.4 239.0,85.0 240.5,82.8 242.0,80.7 243.5,78.8 245.0,77.1 246.5,75.3 248.0,73.6 249.5,71.9 251.0,70.2 252.5,68.5 254.0,67.0 255.5,65.5 257.0,64.1 258.5,62.9 260.0,61.7 261.5,60.5 263.0,59.4 264.5,58.5 266.0,57.6 267.5,56.8 269.0,56.1 270.5,55.4 272.0,54.8 273.5,54.2 275.0,53.7 276.5,53.2 278.0,52.7 279.5,52.3 281.0,51.9 282.5,51.6 284.0,51.2 285.5,50.9 287.0,50.6 288.5,50.4 290.0,50.1 291.5,49.9 293.0,49.6 294.5,49.4 296.0,49.2 297.5,49.0 299.0,48.8 300.5,48.7 302.0,48.5 303.5,48.3 305.0,48.2 306.5,48.0 308.0,47.9 309.0,47.8" fill="none" stroke="#e4220f" stroke-width="1.9" stroke-linejoin="round" stroke-linecap="butt"/>
<polyline points="48.5,185.8 50.0,185.9 51.5,186.0 53.0,186.1 54.5,186.2 56.0,186.3 57.5,186.4 59.0,186.6 60.5,186.7 62.0,186.8 63.5,186.9 65.0,187.0 66.5,187.1 68.0,187.2 69.5,187.3 71.0,187.4 72.5,187.5 74.0,187.6 75.5,187.6 77.0,187.6 78.5,187.6 80.0,187.6 81.5,187.6 83.0,187.6 84.5,187.6 86.0,187.6 87.5,187.6 89.0,187.6 90.5,187.6 92.0,187.6 93.5,187.6 95.0,187.6 96.5,187.6 98.0,187.6 99.5,187.6 101.0,187.6 102.5,187.6 104.0,187.6 105.5,187.6 107.0,187.6 108.5,187.6 110.0,187.6 111.5,187.6 113.0,187.6 114.5,187.6 116.0,187.6 117.5,187.6 119.0,187.6 120.5,187.6 122.0,187.6 123.5,187.6 125.0,187.6 126.5,187.6 128.0,187.6 129.5,187.6 131.0,187.6 132.5,187.6 134.0,187.6 135.5,187.6 137.0,187.6 138.5,187.6 140.0,187.6 141.5,187.6 143.0,187.6 144.5,187.6 146.0,187.6 147.5,187.6 149.0,187.6 150.5,187.6 152.0,187.6 153.5,187.6 155.0,187.6 156.5,187.6 158.0,187.6 159.5,187.6 161.0,187.6 162.5,187.6 164.0,187.6 165.5,187.6 167.0,187.6 168.5,187.6 170.0,187.6 171.5,187.6 173.0,187.6 174.5,187.6 176.0,187.6 177.5,187.6 179.0,187.6 180.5,187.6 182.0,187.6 183.5,187.6 185.0,187.6 186.5,187.5 188.0,187.5 189.5,187.4 191.0,187.3 192.5,187.2 194.0,186.9 195.5,186.5 197.0,186.1 198.5,185.5 200.0,184.7 201.5,183.8 203.0,182.8 204.5,181.8 206.0,180.6 207.5,179.4 209.0,177.9 210.5,176.3 212.0,174.4 213.5,172.5 215.0,170.6 216.5,168.6 218.0,166.4 219.5,164.1 221.0,161.6 222.5,159.0 224.0,156.3 225.5,153.5 227.0,150.5 228.5,147.5 230.0,144.5 231.5,141.4 233.0,138.4 234.5,135.4 236.0,132.3 237.5,129.1 239.0,125.9 240.5,122.7 242.0,119.5 243.5,116.4 245.0,113.4 246.5,110.5 248.0,107.4 249.5,104.3 251.0,101.1 252.5,98.1 254.0,95.2 255.5,92.4 257.0,89.7 258.5,87.2 260.0,84.7 261.5,82.5 263.0,80.3 264.5,78.4 266.0,76.5 267.5,74.7 269.0,72.9 270.5,71.1 272.0,69.3 273.5,67.7 275.0,66.1 276.5,64.5 278.0,63.1 279.5,61.8 281.0,60.6 282.5,59.4 284.0,58.3 285.5,57.4 287.0,56.6 288.5,55.8 290.0,55.1 291.5,54.4 293.0,53.8 294.5,53.2 296.0,52.7 297.5,52.2 299.0,51.8 300.5,51.4 302.0,51.0 303.5,50.7 305.0,50.4 306.5,50.1 308.0,49.8 309.0,49.6" fill="none" stroke="#e4220f" stroke-width="1.9" stroke-linejoin="round" stroke-linecap="butt"/>
<polyline points="68.0,185.2 69.0,185.2 70.0,185.2 71.0,185.2 72.0,185.2 73.0,185.2 74.0,185.2 75.0,185.2 76.0,185.2 77.0,185.2 78.0,185.3 79.0,185.3 80.0,185.3 81.0,185.4 82.0,185.4 83.0,185.4 84.0,185.5 85.0,185.5 86.0,185.6 87.0,185.6 88.0,185.7 89.0,185.7 90.0,185.7 91.0,185.8 92.0,185.8 93.0,185.8 94.0,185.8 95.0,185.8 96.0,185.9 97.0,185.9 98.0,185.9 99.0,185.9 100.0,185.9 101.0,186.0 102.0,186.0 103.0,186.0 104.0,186.0 105.0,186.0 106.0,186.0 107.0,186.0 108.0,186.0 109.0,186.0 110.0,185.9 111.0,185.9 112.0,185.8 113.0,185.8 114.0,185.7 115.0,185.6 116.0,185.5 117.0,185.5 118.0,185.4 119.0,185.3 120.0,185.2 121.0,185.0 122.0,184.9 123.0,184.8 124.0,184.7 125.0,184.5 126.0,184.4 127.0,184.3 128.0,184.1 129.0,184.0 130.0,183.8 131.0,183.7 132.0,183.5 133.0,183.3 134.0,183.2 135.0,183.0 136.0,182.9 137.0,182.8 138.0,182.6 139.0,182.4 140.0,182.2 141.0,181.9 142.0,181.5 143.0,180.9 144.0,180.3 145.0,179.6 146.0,178.8 147.0,177.9 148.0,176.8 149.0,175.6 150.0,174.3 151.0,173.0 152.0,171.8 153.0,170.5 154.0,169.2 155.0,167.8 156.0,166.4 157.0,165.0 158.0,163.4 159.0,161.9 160.0,160.2 161.0,158.6 162.0,157.0 163.0,155.4 164.0,153.9 165.0,152.3 166.0,150.7 167.0,149.1 168.0,147.3 169.0,145.4 170.0,143.5 171.0,141.6 172.0,139.7 173.0,137.7 174.0,135.8 175.0,133.9 176.0,132.0 177.0,130.0 178.0,128.0 179.0,126.0 180.0,124.0 181.0,121.9 182.0,119.8 183.0,117.8 184.0,115.7 185.0,113.7 186.0,111.7 187.0,109.7 188.0,107.7 189.0,105.7 190.0,103.7 191.0,101.6 192.0,99.6 193.0,97.6 194.0,95.7 195.0,93.9 196.0,92.1 197.0,90.4 198.0,88.7 199.0,87.1 200.0,85.6 201.0,84.2 202.0,82.8 203.0,81.5 204.0,80.2 205.0,78.9 206.0,77.7 207.0,76.5 208.0,75.3 209.0,74.2 210.0,73.0 211.0,71.8 212.0,70.6 213.0,69.5 214.0,68.5 215.0,67.4 216.0,66.5 217.0,65.7 218.0,64.9 219.0,64.1 220.0,63.4 221.0,62.7 222.0,62.1 223.0,61.5 224.0,60.8 225.0,60.3 226.0,59.7 227.0,59.1 228.0,58.6 229.0,58.0 230.0,57.5 231.0,57.0 232.0,56.4 233.0,55.9 234.0,55.4 235.0,54.8 236.0,54.3 237.0,53.8 238.0,53.3 239.0,52.9 240.0,52.5 241.0,52.1 242.0,51.8 243.0,51.5 244.0,51.2 245.0,50.9 246.0,50.6 247.0,50.4 248.0,50.1 249.0,49.9 250.0,49.7 251.0,49.5 252.0,49.3 253.0,49.1 254.0,48.9 255.0,48.8 256.0,48.6 257.0,48.5 258.0,48.3 259.0,48.2 260.0,48.1 261.0,47.9 262.0,47.8 263.0,47.7 264.0,47.6 265.0,47.5 266.0,47.4 267.0,47.3 268.0,47.2 269.0,47.1 270.0,47.0 271.0,47.0 272.0,46.9 273.0,46.8 274.0,46.7 275.0,46.6 276.0,46.6 277.0,46.5 278.0,46.4 279.0,46.4 280.0,46.3 281.0,46.2 282.0,46.2 283.0,46.1 284.0,46.1 285.0,46.0 286.0,46.0 287.0,45.9 288.0,45.9 289.0,45.8 290.0,45.8 291.0,45.7 292.0,45.7 293.0,45.6 294.0,45.6 295.0,45.5 296.0,45.5 297.0,45.5 298.0,45.4 299.0,45.4 300.0,45.3 301.0,45.3 302.0,45.3 303.0,45.2 304.0,45.2 305.0,45.2 306.0,45.1" fill="none" stroke="#111111" stroke-width="1.35" stroke-linejoin="round" stroke-linecap="butt"/>
<polyline points="68.0,185.2 69.0,185.2 70.0,185.2 71.0,185.2 72.0,185.2 73.0,185.3 74.0,185.3 75.0,185.3 76.0,185.4 77.0,185.4 78.0,185.4 79.0,185.5 80.0,185.5 81.0,185.6 82.0,185.6 83.0,185.6 84.0,185.7 85.0,185.7 86.0,185.7 87.0,185.8 88.0,185.8 89.0,185.8 90.0,185.8 91.0,185.9 92.0,185.9 93.0,185.9 94.0,185.9 95.0,185.9 96.0,185.9 97.0,186.0 98.0,186.0 99.0,186.0 100.0,186.0 101.0,186.0 102.0,186.0 103.0,186.0 104.0,186.0 105.0,186.0 106.0,185.9 107.0,185.9 108.0,185.8 109.0,185.7 110.0,185.7 111.0,185.6 112.0,185.5 113.0,185.4 114.0,185.3 115.0,185.2 116.0,185.1 117.0,185.0 118.0,184.9 119.0,184.8 120.0,184.6 121.0,184.5 122.0,184.4 123.0,184.2 124.0,184.1 125.0,183.9 126.0,183.8 127.0,183.6 128.0,183.5 129.0,183.3 130.0,183.2 131.0,183.0 132.0,182.9 133.0,182.7 134.0,182.6 135.0,182.4 136.0,182.1 137.0,181.9 138.0,181.4 139.0,180.9 140.0,180.3 141.0,179.5 142.0,178.8 143.0,177.9 144.0,176.8 145.0,175.6 146.0,174.3 147.0,173.0 148.0,171.8 149.0,170.5 150.0,169.2 151.0,167.9 152.0,166.5 153.0,165.1 154.0,163.6 155.0,162.0 156.0,160.4 157.0,158.8 158.0,157.2 159.0,155.6 160.0,154.1 161.0,152.6 162.0,151.0 163.0,149.4 164.0,147.6 165.0,145.8 166.0,143.9 167.0,142.0 168.0,140.1 169.0,138.2 170.0,136.3 171.0,134.4 172.0,132.4 173.0,130.5 174.0,128.5 175.0,126.5 176.0,124.5 177.0,122.4 178.0,120.4 179.0,118.3 180.0,116.2 181.0,114.2 182.0,112.2 183.0,110.1 184.0,108.1 185.0,106.1 186.0,104.1 187.0,102.0 188.0,99.9 189.0,97.9 190.0,95.9 191.0,94.1 192.0,92.2 193.0,90.4 194.0,88.7 195.0,87.1 196.0,85.5 197.0,84.0 198.0,82.6 199.0,81.2 200.0,79.9 201.0,78.6 202.0,77.4 203.0,76.2 204.0,74.9 205.0,73.7 206.0,72.5 207.0,71.3 208.0,70.1 209.0,69.0 210.0,67.9 211.0,66.8 212.0,65.9 213.0,65.1 214.0,64.3 215.0,63.5 216.0,62.8 217.0,62.1 218.0,61.4 219.0,60.8 220.0,60.2 221.0,59.6 222.0,59.0 223.0,58.4 224.0,57.8 225.0,57.3 226.0,56.7 227.0,56.2 228.0,55.6 229.0,55.1 230.0,54.5 231.0,54.0 232.0,53.5 233.0,53.0 234.0,52.5 235.0,52.1 236.0,51.7 237.0,51.4 238.0,51.0 239.0,50.7 240.0,50.5 241.0,50.2 242.0,49.9 243.0,49.7 244.0,49.4 245.0,49.2 246.0,49.0 247.0,48.8 248.0,48.6 249.0,48.4 250.0,48.3 251.0,48.1 252.0,48.0 253.0,47.8 254.0,47.7 255.0,47.5 256.0,47.4 257.0,47.3 258.0,47.2 259.0,47.1 260.0,47.0 261.0,46.9 262.0,46.8 263.0,46.7 264.0,46.6 265.0,46.5 266.0,46.4 267.0,46.3 268.0,46.3 269.0,46.2 270.0,46.1 271.0,46.0 272.0,46.0 273.0,45.9 274.0,45.8 275.0,45.8 276.0,45.7 277.0,45.6 278.0,45.6 279.0,45.5 280.0,45.5 281.0,45.4 282.0,45.4 283.0,45.3 284.0,45.3 285.0,45.2 286.0,45.2 287.0,45.1 288.0,45.1 289.0,45.0 290.0,45.0 291.0,45.0 292.0,44.9 293.0,44.9 294.0,44.8 295.0,44.8 296.0,44.8 297.0,44.7 298.0,44.7 299.0,44.7" fill="none" stroke="#111111" stroke-width="1.35" stroke-linejoin="round" stroke-linecap="butt"/>
<polyline points="68.0,185.4 69.0,185.4 70.0,185.4 71.0,185.5 72.0,185.5 73.0,185.6 74.0,185.6 75.0,185.6 76.0,185.7 77.0,185.7 78.0,185.7 79.0,185.8 80.0,185.8 81.0,185.8 82.0,185.8 83.0,185.8 84.0,185.9 85.0,185.9 86.0,185.9 87.0,185.9 88.0,185.9 89.0,185.9 90.0,186.0 91.0,186.0 92.0,186.0 93.0,186.0 94.0,186.0 95.0,186.0 96.0,186.0 97.0,186.0 98.0,186.0 99.0,185.9 100.0,185.9 101.0,185.8 102.0,185.7 103.0,185.7 104.0,185.6 105.0,185.5 106.0,185.5 107.0,185.4 108.0,185.3 109.0,185.2 110.0,185.1 111.0,185.0 112.0,184.9 113.0,184.7 114.0,184.6 115.0,184.5 116.0,184.3 117.0,184.2 118.0,184.1 119.0,183.9 120.0,183.8 121.0,183.6 122.0,183.5 123.0,183.3 124.0,183.2 125.0,183.1 126.0,182.9 127.0,182.8 128.0,182.6 129.0,182.5 130.0,182.3 131.0,182.0 132.0,181.7 133.0,181.3 134.0,180.7 135.0,180.1 136.0,179.4 137.0,178.6 138.0,177.8 139.0,176.7 140.0,175.5 141.0,174.3 142.0,173.1 143.0,171.9 144.0,170.7 145.0,169.4 146.0,168.2 147.0,166.9 148.0,165.5 149.0,164.1 150.0,162.6 151.0,161.1 152.0,159.5 153.0,158.0 154.0,156.5 155.0,155.0 156.0,153.5 157.0,152.0 158.0,150.5 159.0,148.9 160.0,147.2 161.0,145.4 162.0,143.6 163.0,141.7 164.0,139.9 165.0,138.1 166.0,136.2 167.0,134.4 168.0,132.5 169.0,130.7 170.0,128.8 171.0,126.8 172.0,124.9 173.0,122.9 174.0,120.9 175.0,118.8 176.0,116.8 177.0,114.8 178.0,112.8 179.0,110.8 180.0,108.8 181.0,106.8 182.0,104.8 183.0,102.8 184.0,100.7 185.0,98.6 186.0,96.6 187.0,94.7 188.0,92.9 189.0,91.0 190.0,89.3 191.0,87.6 192.0,85.9 193.0,84.4 194.0,82.9 195.0,81.5 196.0,80.2 197.0,78.8 198.0,77.6 199.0,76.3 200.0,75.1 201.0,73.8 202.0,72.6 203.0,71.3 204.0,70.1 205.0,68.9 206.0,67.8 207.0,66.7 208.0,65.8 209.0,64.9 210.0,64.1 211.0,63.3 212.0,62.5 213.0,61.8 214.0,61.1 215.0,60.5 216.0,59.8 217.0,59.2 218.0,58.6 219.0,58.0 220.0,57.5 221.0,56.9 222.0,56.3 223.0,55.8 224.0,55.2 225.0,54.6 226.0,54.1 227.0,53.5 228.0,53.0 229.0,52.5 230.0,52.0 231.0,51.6 232.0,51.2 233.0,50.9 234.0,50.5 235.0,50.2 236.0,49.9 237.0,49.7 238.0,49.4 239.0,49.1 240.0,48.9 241.0,48.7 242.0,48.5 243.0,48.3 244.0,48.1 245.0,47.9 246.0,47.7 247.0,47.6 248.0,47.4 249.0,47.3 250.0,47.1 251.0,47.0 252.0,46.9 253.0,46.8 254.0,46.7 255.0,46.5 256.0,46.4 257.0,46.3 258.0,46.2 259.0,46.1 260.0,46.1 261.0,46.0 262.0,45.9 263.0,45.8 264.0,45.7 265.0,45.6 266.0,45.6 267.0,45.5 268.0,45.4 269.0,45.4 270.0,45.3 271.0,45.2 272.0,45.2 273.0,45.1 274.0,45.0 275.0,45.0 276.0,44.9 277.0,44.9 278.0,44.8 279.0,44.8 280.0,44.7 281.0,44.7 282.0,44.6 283.0,44.6 284.0,44.5 285.0,44.5 286.0,44.5 287.0,44.4 288.0,44.4 289.0,44.3 290.0,44.3 291.0,44.3 292.0,44.2 293.0,44.2 294.0,44.2 295.0,44.1 296.0,44.1 297.0,44.1 298.0,44.1 299.0,44.0" fill="none" stroke="#111111" stroke-width="1.95" stroke-linejoin="round" stroke-linecap="butt"/>
</g>
<g>
<polyline points="387.0,185.9 388.5,186.0 390.0,186.1 391.5,186.2 393.0,186.3 394.5,186.4 396.0,186.4 397.5,186.5 399.0,186.6 400.5,186.7 402.0,186.8 403.5,186.9 405.0,186.9 406.5,187.0 408.0,187.1 409.5,187.2 411.0,187.2 412.5,187.3 414.0,187.3 415.5,187.3 417.0,187.3 418.5,187.2 420.0,187.1 421.5,187.0 423.0,186.9 424.5,186.8 426.0,186.7 427.5,186.6 429.0,186.4 430.5,186.2 432.0,186.1 433.5,185.9 435.0,185.7 436.5,185.5 438.0,185.3 439.5,185.1 441.0,184.9 442.5,184.6 444.0,184.2 445.5,183.9 447.0,183.5 448.5,183.1 450.0,182.6 451.5,182.0 453.0,181.3 454.5,180.5 456.0,179.7 457.5,178.7 459.0,177.7 460.5,176.5 462.0,175.2 463.5,173.6 465.0,171.9 466.5,170.2 468.0,168.3 469.5,166.4 471.0,164.3 472.5,162.0 474.0,159.6 475.5,157.0 477.0,154.3 478.5,151.5 480.0,148.6 481.5,145.6 483.0,142.6 484.5,139.7 486.0,136.7 487.5,133.7 489.0,130.6 490.5,127.4 492.0,124.2 493.5,121.1 495.0,117.9 496.5,114.9 498.0,112.0 499.5,109.1 501.0,106.0 502.5,102.8 504.0,99.7 505.5,96.8 507.0,94.0 508.5,91.3 510.0,88.7 511.5,86.2 513.0,83.9 514.5,81.7 516.0,79.7 517.5,77.8 519.0,76.1 520.5,74.3 522.0,72.4 523.5,70.7 525.0,69.0 526.5,67.4 528.0,65.8 529.5,64.4 531.0,63.0 532.5,61.8 534.0,60.6 535.5,59.5 537.0,58.5 538.5,57.6 540.0,56.8 541.5,56.1 543.0,55.4 544.5,54.7 546.0,54.2 547.5,53.7 549.0,53.2 550.5,52.7 552.0,52.3 553.5,51.9 555.0,51.6 556.5,51.2 558.0,50.9 559.5,50.6 561.0,50.4 562.5,50.1 564.0,49.9 565.5,49.7 567.0,49.4 568.5,49.2 570.0,49.1 571.5,48.9 573.0,48.7 574.5,48.5 576.0,48.4 577.5,48.2 579.0,48.1 580.5,48.0 582.0,47.9 583.5,47.8 585.0,47.7 586.5,47.5 588.0,47.4 589.5,47.4 591.0,47.3 592.5,47.2 594.0,47.1 595.5,47.0 597.0,46.9 598.5,46.8 600.0,46.8 601.5,46.7 603.0,46.6 604.5,46.5 606.0,46.5 607.5,46.4 609.0,46.3 610.5,46.2 612.0,46.2 613.5,46.1 615.0,46.1 616.5,46.0 618.0,45.9 619.5,45.9 621.0,45.8 622.5,45.8 624.0,45.7 625.5,45.7 627.0,45.6 628.5,45.6 630.0,45.5 631.5,45.5 633.0,45.5 634.5,45.4 636.0,45.4 637.5,45.3 639.0,45.3 640.5,45.3 642.0,45.2 643.5,45.2 645.0,45.2 646.5,45.1 648.0,45.1 649.0,45.1" fill="none" stroke="#e4220f" stroke-width="1.9" stroke-linejoin="round" stroke-linecap="butt"/>
<polyline points="387.0,185.8 388.5,185.9 390.0,186.0 391.5,186.0 393.0,186.1 394.5,186.2 396.0,186.3 397.5,186.3 399.0,186.4 400.5,186.5 402.0,186.6 403.5,186.7 405.0,186.8 406.5,186.8 408.0,186.9 409.5,187.0 411.0,187.1 412.5,187.2 414.0,187.2 415.5,187.3 417.0,187.3 418.5,187.3 420.0,187.3 421.5,187.3 423.0,187.3 424.5,187.3 426.0,187.3 427.5,187.3 429.0,187.3 430.5,187.3 432.0,187.3 433.5,187.3 435.0,187.3 436.5,187.3 438.0,187.3 439.5,187.2 441.0,187.1 442.5,187.1 444.0,187.0 445.5,186.8 447.0,186.7 448.5,186.6 450.0,186.4 451.5,186.3 453.0,186.1 454.5,185.9 456.0,185.8 457.5,185.6 459.0,185.4 460.5,185.2 462.0,184.9 463.5,184.7 465.0,184.3 466.5,184.0 468.0,183.6 469.5,183.2 471.0,182.7 472.5,182.2 474.0,181.5 475.5,180.8 477.0,179.9 478.5,179.0 480.0,178.1 481.5,176.9 483.0,175.7 484.5,174.1 486.0,172.5 487.5,170.7 489.0,169.0 490.5,167.1 492.0,165.0 493.5,162.8 495.0,160.4 496.5,157.9 498.0,155.2 499.5,152.5 501.0,149.6 502.5,146.6 504.0,143.6 505.5,140.6 507.0,137.7 508.5,134.7 510.0,131.6 511.5,128.5 513.0,125.3 514.5,122.1 516.0,118.9 517.5,115.8 519.0,112.9 520.5,110.1 522.0,107.0 523.5,103.8 525.0,100.7 526.5,97.8 528.0,95.0 529.5,92.2 531.0,89.6 532.5,87.2 534.0,84.8 535.5,82.6 537.0,80.6 538.5,78.7 540.0,77.0 541.5,75.2 543.0,73.5 544.5,71.7 546.0,70.0 547.5,68.4 549.0,66.9 550.5,65.4 552.0,64.0 553.5,62.8 555.0,61.6 556.5,60.4 558.0,59.4 559.5,58.4 561.0,57.5 562.5,56.8 564.0,56.0 565.5,55.4 567.0,54.7 568.5,54.2 570.0,53.7 571.5,53.2 573.0,52.7 574.5,52.3 576.0,51.9 577.5,51.5 579.0,51.2 580.5,50.9 582.0,50.6 583.5,50.3 585.0,50.1 586.5,49.8 588.0,49.6 589.5,49.4 591.0,49.2 592.5,49.0 594.0,48.8 595.5,48.7 597.0,48.5 598.5,48.3 600.0,48.2 601.5,48.0 603.0,47.9 604.5,47.8 606.0,47.7 607.5,47.6 609.0,47.4 610.5,47.3 612.0,47.2 613.5,47.2 615.0,47.1 616.5,47.0 618.0,46.9 619.5,46.8 621.0,46.7 622.5,46.6 624.0,46.6 625.5,46.5 627.0,46.4 628.5,46.3 630.0,46.3 631.5,46.2 633.0,46.1 634.5,46.1 636.0,46.0 637.5,45.9 639.0,45.9 640.5,45.8 642.0,45.8 643.5,45.7 645.0,45.6 646.5,45.6 648.0,45.5 649.0,45.5" fill="none" stroke="#e4220f" stroke-width="1.9" stroke-linejoin="round" stroke-linecap="butt"/>
<polyline points="387.0,185.8 388.5,185.8 390.0,185.9 391.5,186.0 393.0,186.1 394.5,186.2 396.0,186.2 397.5,186.3 399.0,186.4 400.5,186.5 402.0,186.5 403.5,186.6 405.0,186.7 406.5,186.8 408.0,186.9 409.5,186.9 411.0,187.0 412.5,187.1 414.0,187.1 415.5,187.1 417.0,187.1 418.5,187.1 420.0,187.1 421.5,187.1 423.0,187.1 424.5,187.1 426.0,187.1 427.5,187.1 429.0,187.1 430.5,187.1 432.0,187.1 433.5,187.1 435.0,187.1 436.5,187.1 438.0,187.1 439.5,187.1 441.0,187.1 442.5,187.1 444.0,187.1 445.5,187.1 447.0,187.1 448.5,187.1 450.0,187.1 451.5,187.1 453.0,187.1 454.5,187.1 456.0,187.1 457.5,187.1 459.0,187.1 460.5,187.1 462.0,187.1 463.5,187.1 465.0,187.1 466.5,187.1 468.0,187.0 469.5,187.0 471.0,187.0 472.5,187.0 474.0,187.0 475.5,186.9 477.0,186.9 478.5,186.8 480.0,186.8 481.5,186.7 483.0,186.5 484.5,186.4 486.0,186.2 487.5,185.9 489.0,185.6 490.5,185.2 492.0,184.7 493.5,184.2 495.0,183.7 496.5,183.0 498.0,182.1 499.5,181.2 501.0,180.3 502.5,179.2 504.0,178.1 505.5,176.7 507.0,175.2 508.5,173.4 510.0,171.6 511.5,169.8 513.0,167.8 514.5,165.8 516.0,163.5 517.5,161.1 519.0,158.6 520.5,155.9 522.0,153.1 523.5,150.3 525.0,147.3 526.5,144.3 528.0,141.3 529.5,138.3 531.0,135.3 532.5,132.2 534.0,129.1 535.5,125.9 537.0,122.7 538.5,119.5 540.0,116.3 541.5,113.4 543.0,110.5 544.5,107.4 546.0,104.2 547.5,101.0 549.0,98.0 550.5,95.1 552.0,92.2 553.5,89.5 555.0,86.9 556.5,84.5 558.0,82.1 559.5,80.0 561.0,78.0 562.5,76.1 564.0,74.2 565.5,72.3 567.0,70.4 568.5,68.6 570.0,66.8 571.5,65.2 573.0,63.7 574.5,62.3 576.0,61.0 577.5,59.7 579.0,58.6 580.5,57.6 582.0,56.7 583.5,55.9 585.0,55.2 586.5,54.5 588.0,53.9 589.5,53.3 591.0,52.8 592.5,52.3 594.0,51.9 595.5,51.5 597.0,51.1 598.5,50.8 600.0,50.5 601.5,50.2 603.0,49.9 604.5,49.6 606.0,49.4 607.5,49.2 609.0,48.9 610.5,48.7 612.0,48.5 613.5,48.4 615.0,48.2 616.5,48.0 618.0,47.9 619.5,47.8 621.0,47.6 622.5,47.5 624.0,47.4 625.5,47.3 627.0,47.2 628.5,47.1 630.0,47.0 631.5,46.9 633.0,46.8 634.5,46.7 636.0,46.6 637.5,46.5 639.0,46.4 640.5,46.3 642.0,46.3 643.5,46.2 645.0,46.1 646.5,46.0 648.0,46.0 649.0,45.9" fill="none" stroke="#e4220f" stroke-width="1.9" stroke-linejoin="round" stroke-linecap="butt"/>
<polyline points="387.0,185.8 388.5,185.9 390.0,186.0 391.5,186.0 393.0,186.1 394.5,186.2 396.0,186.3 397.5,186.3 399.0,186.4 400.5,186.5 402.0,186.6 403.5,186.7 405.0,186.7 406.5,186.8 408.0,186.9 409.5,187.0 411.0,187.0 412.5,187.1 414.0,187.1 415.5,187.1 417.0,187.1 418.5,187.1 420.0,187.1 421.5,187.1 423.0,187.1 424.5,187.1 426.0,187.1 427.5,187.1 429.0,187.1 430.5,187.1 432.0,187.1 433.5,187.1 435.0,187.1 436.5,187.1 438.0,187.1 439.5,187.1 441.0,187.1 442.5,187.1 444.0,187.1 445.5,187.1 447.0,187.1 448.5,187.1 450.0,187.1 451.5,187.1 453.0,187.1 454.5,187.1 456.0,187.1 457.5,187.1 459.0,187.1 460.5,187.1 462.0,187.1 463.5,187.1 465.0,187.1 466.5,187.1 468.0,187.1 469.5,187.1 471.0,187.1 472.5,187.1 474.0,187.1 475.5,187.1 477.0,187.1 478.5,187.1 480.0,187.1 481.5,187.1 483.0,187.1 484.5,187.1 486.0,187.1 487.5,187.1 489.0,187.1 490.5,187.1 492.0,187.1 493.5,187.1 495.0,187.1 496.5,187.1 498.0,187.1 499.5,187.1 501.0,187.1 502.5,187.1 504.0,187.1 505.5,187.1 507.0,187.1 508.5,187.1 510.0,187.0 511.5,186.9 513.0,186.7 514.5,186.4 516.0,185.8 517.5,184.9 519.0,183.9 520.5,182.9 522.0,181.7 523.5,180.4 525.0,179.0 526.5,177.3 528.0,175.4 529.5,173.5 531.0,171.5 532.5,169.5 534.0,167.3 535.5,165.0 537.0,162.6 538.5,160.1 540.0,157.4 541.5,154.6 543.0,151.7 544.5,148.7 546.0,145.6 547.5,142.6 549.0,139.6 550.5,136.6 552.0,133.6 553.5,130.5 555.0,127.3 556.5,124.1 558.0,120.9 559.5,117.8 561.0,114.7 562.5,111.9 564.0,108.9 565.5,105.8 567.0,102.7 568.5,99.6 570.0,96.7 571.5,93.9 573.0,91.2 574.5,88.6 576.0,86.2 577.5,83.9 579.0,81.7 580.5,79.7 582.0,77.8 583.5,76.1 585.0,74.3 586.5,72.5 588.0,70.7 589.5,69.0 591.0,67.4 592.5,65.9 594.0,64.4 595.5,63.1 597.0,61.8 598.5,60.7 600.0,59.6 601.5,58.6 603.0,57.7 604.5,56.9 606.0,56.2 607.5,55.5 609.0,54.9 610.5,54.3 612.0,53.8 613.5,53.3 615.0,52.9 616.5,52.4 618.0,52.1 619.5,51.7 621.0,51.4 622.5,51.1 624.0,50.8 625.5,50.5 627.0,50.3 628.5,50.0 630.0,49.8 631.5,49.6 633.0,49.4 634.5,49.2 636.0,49.1 637.5,48.9 639.0,48.7 640.5,48.6 642.0,48.4 643.5,48.3 645.0,48.2 646.5,48.1 648.0,47.9 649.0,47.9" fill="none" stroke="#e4220f" stroke-width="1.9" stroke-linejoin="round" stroke-linecap="butt"/>
<polyline points="387.0,185.8 388.5,185.9 390.0,186.0 391.5,186.0 393.0,186.1 394.5,186.2 396.0,186.3 397.5,186.3 399.0,186.4 400.5,186.5 402.0,186.6 403.5,186.7 405.0,186.7 406.5,186.8 408.0,186.9 409.5,187.0 411.0,187.0 412.5,187.1 414.0,187.1 415.5,187.1 417.0,187.1 418.5,187.1 420.0,187.1 421.5,187.1 423.0,187.1 424.5,187.1 426.0,187.1 427.5,187.1 429.0,187.1 430.5,187.1 432.0,187.1 433.5,187.1 435.0,187.1 436.5,187.1 438.0,187.1 439.5,187.1 441.0,187.1 442.5,187.1 444.0,187.1 445.5,187.1 447.0,187.1 448.5,187.1 450.0,187.1 451.5,187.1 453.0,187.1 454.5,187.1 456.0,187.1 457.5,187.1 459.0,187.1 460.5,187.1 462.0,187.1 463.5,187.1 465.0,187.1 466.5,187.1 468.0,187.1 469.5,187.1 471.0,187.1 472.5,187.1 474.0,187.1 475.5,187.1 477.0,187.1 478.5,187.1 480.0,187.1 481.5,187.1 483.0,187.1 484.5,187.1 486.0,187.1 487.5,187.1 489.0,187.1 490.5,187.1 492.0,187.1 493.5,187.1 495.0,187.1 496.5,187.1 498.0,187.1 499.5,187.1 501.0,187.1 502.5,187.1 504.0,187.1 505.5,187.1 507.0,187.1 508.5,187.1 510.0,187.1 511.5,187.1 513.0,187.1 514.5,187.1 516.0,187.1 517.5,187.1 519.0,187.1 520.5,187.0 522.0,187.0 523.5,186.8 525.0,186.6 526.5,186.1 528.0,185.4 529.5,184.4 531.0,183.4 532.5,182.2 534.0,181.0 535.5,179.6 537.0,178.1 538.5,176.3 540.0,174.4 541.5,172.5 543.0,170.5 544.5,168.4 546.0,166.1 547.5,163.8 549.0,161.3 550.5,158.7 552.0,155.9 553.5,153.1 555.0,150.1 556.5,147.1 558.0,144.1 559.5,141.1 561.0,138.1 562.5,135.1 564.0,132.0 565.5,128.9 567.0,125.7 568.5,122.5 570.0,119.3 571.5,116.3 573.0,113.3 574.5,110.5 576.0,107.4 577.5,104.3 579.0,101.2 580.5,98.2 582.0,95.4 583.5,92.6 585.0,90.0 586.5,87.5 588.0,85.2 589.5,82.9 591.0,80.9 592.5,79.0 594.0,77.2 595.5,75.4 597.0,73.6 598.5,71.8 600.0,70.1 601.5,68.5 603.0,66.9 604.5,65.4 606.0,64.1 607.5,62.8 609.0,61.6 610.5,60.5 612.0,59.4 613.5,58.5 615.0,57.7 616.5,56.9 618.0,56.2 619.5,55.6 621.0,55.0 622.5,54.5 624.0,54.0 625.5,53.5 627.0,53.1 628.5,52.7 630.0,52.3 631.5,52.0 633.0,51.7 634.5,51.4 636.0,51.1 637.5,50.9 639.0,50.6 640.5,50.4 642.0,50.2 643.5,50.0 645.0,49.8 646.5,49.6 648.0,49.4 649.0,49.3" fill="none" stroke="#e4220f" stroke-width="1.9" stroke-linejoin="round" stroke-linecap="butt"/>
<polyline points="480.0,188.1 481.5,188.0 483.0,187.9 484.5,187.8 486.0,187.7 487.5,187.7 489.0,187.6 490.5,187.5 492.0,187.4 493.5,187.3 495.0,187.2 496.5,187.1 498.0,187.0 499.5,187.0 501.0,186.9 502.5,186.8 504.0,186.7 505.5,186.6 507.0,186.5 508.5,186.4 510.0,186.3 511.5,186.3 513.0,186.2 514.5,186.1 516.0,186.0 517.5,185.9 519.0,185.8 520.5,185.7 522.0,185.6 523.5,185.5 525.0,185.4 526.5,185.2 528.0,184.9 529.5,184.6 531.0,184.0 532.5,183.2 534.0,182.2 535.5,181.2 537.0,180.1 538.5,178.9 540.0,177.7 541.5,176.3 543.0,174.8 544.5,173.1 546.0,171.3 547.5,169.6 549.0,167.7 550.5,165.8 552.0,163.8 553.5,161.6 555.0,159.3 556.5,156.9 558.0,154.4 559.5,151.9 561.0,149.2 562.5,146.5 564.0,143.7 565.5,141.0 567.0,138.3 568.5,135.5 570.0,132.8 571.5,130.0 573.0,127.1 574.5,124.1 576.0,121.3 577.5,118.4 579.0,115.6 580.5,112.9 582.0,110.3 583.5,107.5 585.0,104.6 586.5,101.8 588.0,99.0 589.5,96.4 591.0,93.8 592.5,91.4 594.0,89.1 595.5,86.8 597.0,84.7 598.5,82.7 600.0,80.9 601.5,79.1 603.0,77.5 604.5,75.8 606.0,74.2 607.5,72.5 609.0,70.9 610.5,69.4 612.0,68.0 613.5,66.6 615.0,65.3 616.5,64.1 618.0,62.9 619.5,61.9 621.0,60.9 622.5,59.9 624.0,59.1 625.5,58.4 627.0,57.7 628.5,57.0 630.0,56.5 631.5,55.9 633.0,55.4 634.5,55.0 636.0,54.5 637.5,54.1 639.0,53.7 640.5,53.4 642.0,53.1 643.5,52.8 645.0,52.5 646.5,52.2 648.0,52.0 649.0,51.8" fill="none" stroke="#5079cf" stroke-width="1.7" stroke-linejoin="round" stroke-linecap="butt"/>
<polyline points="480.0,188.1 481.5,188.0 483.0,187.9 484.5,187.8 486.0,187.7 487.5,187.7 489.0,187.6 490.5,187.5 492.0,187.4 493.5,187.3 495.0,187.2 496.5,187.1 498.0,187.0 499.5,187.0 501.0,186.9 502.5,186.8 504.0,186.7 505.5,186.6 507.0,186.5 508.5,186.4 510.0,186.3 511.5,186.3 513.0,186.2 514.5,186.1 516.0,186.0 517.5,185.9 519.0,185.8 520.5,185.7 522.0,185.5 523.5,185.4 525.0,185.1 526.5,184.7 528.0,184.1 529.5,183.2 531.0,182.3 532.5,181.2 534.0,180.1 535.5,178.9 537.0,177.6 538.5,176.2 540.0,174.6 541.5,172.8 543.0,171.1 544.5,169.3 546.0,167.5 547.5,165.5 549.0,163.5 550.5,161.3 552.0,159.0 553.5,156.6 555.0,154.1 556.5,151.5 558.0,148.8 559.5,146.1 561.0,143.4 562.5,140.6 564.0,137.9 565.5,135.2 567.0,132.4 568.5,129.6 570.0,126.7 571.5,123.8 573.0,120.9 574.5,118.0 576.0,115.2 577.5,112.6 579.0,110.0 580.5,107.1 582.0,104.2 583.5,101.4 585.0,98.7 586.5,96.1 588.0,93.5 589.5,91.1 591.0,88.8 592.5,86.5 594.0,84.4 595.5,82.4 597.0,80.6 598.5,78.9 600.0,77.3 601.5,75.6 603.0,74.0 604.5,72.3 606.0,70.7 607.5,69.2 609.0,67.8 610.5,66.4 612.0,65.1 613.5,63.9 615.0,62.8 616.5,61.7 618.0,60.7 619.5,59.8 621.0,59.0 622.5,58.3 624.0,57.6 625.5,57.0 627.0,56.4 628.5,55.8 630.0,55.4 631.5,54.9 633.0,54.5 634.5,54.1 636.0,53.7 637.5,53.3 639.0,53.0 640.5,52.7 642.0,52.5 643.5,52.2 645.0,51.9 646.5,51.7 648.0,51.5 649.0,51.4" fill="none" stroke="#5079cf" stroke-width="1.7" stroke-linejoin="round" stroke-linecap="butt"/>
<polyline points="480.0,188.1 481.5,188.0 483.0,187.9 484.5,187.8 486.0,187.7 487.5,187.7 489.0,187.6 490.5,187.5 492.0,187.4 493.5,187.3 495.0,187.2 496.5,187.1 498.0,187.0 499.5,187.0 501.0,186.9 502.5,186.8 504.0,186.7 505.5,186.6 507.0,186.5 508.5,186.4 510.0,186.3 511.5,186.2 513.0,186.1 514.5,185.9 516.0,185.6 517.5,185.2 519.0,184.7 520.5,183.8 522.0,182.9 523.5,181.8 525.0,180.7 526.5,179.5 528.0,178.2 529.5,176.8 531.0,175.2 532.5,173.4 534.0,171.6 535.5,169.8 537.0,167.9 538.5,165.9 540.0,163.8 541.5,161.6 543.0,159.3 544.5,156.9 546.0,154.4 547.5,151.9 549.0,149.2 550.5,146.5 552.0,143.7 553.5,141.0 555.0,138.3 556.5,135.5 558.0,132.8 559.5,130.0 561.0,127.1 562.5,124.1 564.0,121.3 565.5,118.4 567.0,115.6 568.5,112.9 570.0,110.3 571.5,107.5 573.0,104.6 574.5,101.8 576.0,99.0 577.5,96.4 579.0,93.8 580.5,91.4 582.0,89.1 583.5,86.8 585.0,84.7 586.5,82.7 588.0,80.9 589.5,79.1 591.0,77.5 592.5,75.8 594.0,74.2 595.5,72.5 597.0,70.9 598.5,69.4 600.0,68.0 601.5,66.6 603.0,65.3 604.5,64.1 606.0,62.9 607.5,61.9 609.0,60.9 610.5,59.9 612.0,59.1 613.5,58.4 615.0,57.7 616.5,57.0 618.0,56.5 619.5,55.9 621.0,55.4 622.5,55.0 624.0,54.5 625.5,54.1 627.0,53.7 628.5,53.4 630.0,53.1 631.5,52.8 633.0,52.5 634.5,52.2 636.0,52.0 637.5,51.7 639.0,51.5 640.5,51.3 642.0,51.1 643.5,50.9 645.0,50.8 646.5,50.6 648.0,50.4 649.0,50.3" fill="none" stroke="#5079cf" stroke-width="1.7" stroke-linejoin="round" stroke-linecap="butt"/>
<polyline points="480.0,188.1 481.5,188.0 483.0,187.9 484.5,187.8 486.0,187.7 487.5,187.7 489.0,187.6 490.5,187.5 492.0,187.4 493.5,187.3 495.0,187.2 496.5,187.1 498.0,187.0 499.5,187.0 501.0,186.9 502.5,186.8 504.0,186.7 505.5,186.6 507.0,186.5 508.5,186.4 510.0,186.2 511.5,186.1 513.0,185.8 514.5,185.4 516.0,184.7 517.5,183.9 519.0,182.9 520.5,181.9 522.0,180.8 523.5,179.5 525.0,178.2 526.5,176.8 528.0,175.1 529.5,173.3 531.0,171.5 532.5,169.6 534.0,167.7 535.5,165.7 537.0,163.6 538.5,161.3 540.0,159.0 541.5,156.6 543.0,154.1 544.5,151.5 546.0,148.8 547.5,146.1 549.0,143.4 550.5,140.6 552.0,137.9 553.5,135.2 555.0,132.4 556.5,129.6 558.0,126.7 559.5,123.8 561.0,120.9 562.5,118.0 564.0,115.2 565.5,112.6 567.0,110.0 568.5,107.1 570.0,104.2 571.5,101.4 573.0,98.7 574.5,96.1 576.0,93.5 577.5,91.1 579.0,88.8 580.5,86.5 582.0,84.4 583.5,82.4 585.0,80.6 586.5,78.9 588.0,77.3 589.5,75.6 591.0,74.0 592.5,72.3 594.0,70.7 595.5,69.2 597.0,67.8 598.5,66.4 600.0,65.1 601.5,63.9 603.0,62.8 604.5,61.7 606.0,60.7 607.5,59.8 609.0,59.0 610.5,58.3 612.0,57.6 613.5,57.0 615.0,56.4 616.5,55.8 618.0,55.4 619.5,54.9 621.0,54.5 622.5,54.1 624.0,53.7 625.5,53.3 627.0,53.0 628.5,52.7 630.0,52.5 631.5,52.2 633.0,51.9 634.5,51.7 636.0,51.5 637.5,51.3 639.0,51.1 640.5,50.9 642.0,50.7 643.5,50.6 645.0,50.4 646.5,50.2 648.0,50.1 649.0,50.0" fill="none" stroke="#5079cf" stroke-width="1.7" stroke-linejoin="round" stroke-linecap="butt"/>
<polyline points="399.0,184.2 400.5,184.3 402.0,184.3 403.5,184.4 405.0,184.5 406.5,184.5 408.0,184.6 409.5,184.7 411.0,184.7 412.5,184.8 414.0,184.9 415.5,184.9 417.0,185.0 418.5,185.1 420.0,185.1 421.5,185.2 423.0,185.3 424.5,185.3 426.0,185.4 427.5,185.5 429.0,185.5 430.5,185.6 432.0,185.7 433.5,185.7 435.0,185.8 436.5,185.8 438.0,185.9 439.5,185.9 441.0,185.9 442.5,185.9 444.0,185.8 445.5,185.8 447.0,185.7 448.5,185.6 450.0,185.4 451.5,185.2 453.0,185.0 454.5,184.6 456.0,184.2 457.5,183.8 459.0,183.2 460.5,182.6 462.0,181.8 463.5,180.9 465.0,180.0 466.5,179.0 468.0,177.8 469.5,176.6 471.0,175.1 472.5,173.4 474.0,171.6 475.5,169.8 477.0,167.9 478.5,165.8 480.0,163.6 481.5,161.3 483.0,158.8 484.5,156.2 486.0,153.4 487.5,150.6 489.0,147.6 490.5,144.6 492.0,141.6 493.5,138.7 495.0,135.7 496.5,132.6 498.0,129.5 499.5,126.3 501.0,123.1 502.5,119.9 504.0,116.8 505.5,113.8 507.0,110.9 508.5,107.9 510.0,104.7 511.5,101.5 513.0,98.5 514.5,95.5 516.0,92.7 517.5,90.0 519.0,87.4 520.5,84.9 522.0,82.6 523.5,80.4 525.0,78.4 526.5,76.5 528.0,74.7 529.5,72.9 531.0,71.0 532.5,69.2 534.0,67.5 535.5,65.9 537.0,64.4 538.5,62.9 540.0,61.6 541.5,60.3 543.0,59.1 544.5,58.0 546.0,57.0 547.5,56.1 549.0,55.3 550.5,54.6 552.0,53.9 553.5,53.3 555.0,52.7 556.5,52.2 558.0,51.7 559.5,51.2 561.0,50.8 562.5,50.4 564.0,50.0 565.5,49.7 567.0,49.4 568.5,49.1 570.0,48.8 571.5,48.6 573.0,48.4 574.5,48.1 576.0,47.9 577.5,47.7 579.0,47.5 580.5,47.3 582.0,47.2 583.5,47.0 585.0,46.9 586.5,46.7 588.0,46.6 589.5,46.5 591.0,46.3 592.5,46.2 594.0,46.1 595.5,46.0 597.0,45.9 598.5,45.8 600.0,45.7 601.5,45.6 603.0,45.5 604.5,45.4 606.0,45.4 607.5,45.3 609.0,45.2 610.5,45.1 612.0,45.0 613.5,45.0 615.0,44.9 616.5,44.8 618.0,44.7 619.5,44.7 621.0,44.6 622.5,44.5 624.0,44.5 625.5,44.4 627.0,44.4 628.5,44.3 630.0,44.3 631.5,44.2 633.0,44.2" fill="none" stroke="#111111" stroke-width="1.9" stroke-linejoin="round" stroke-linecap="butt"/>
<polyline points="397.0,185.0 398.5,185.0 400.0,185.1 401.5,185.2 403.0,185.2 404.5,185.3 406.0,185.3 407.5,185.4 409.0,185.5 410.5,185.5 412.0,185.6 413.5,185.6 415.0,185.7 416.5,185.8 418.0,185.8 419.5,185.9 421.0,185.9 422.5,186.0 424.0,186.1 425.5,186.1 427.0,186.2 428.5,186.2 430.0,186.3 431.5,186.4 433.0,186.4 434.5,186.5 436.0,186.5 437.5,186.6 439.0,186.6 440.5,186.5 442.0,186.5 443.5,186.5 445.0,186.5 446.5,186.4 448.0,186.4 449.5,186.3 451.0,186.2 452.5,186.1 454.0,185.9 455.5,185.6 457.0,185.3 458.5,184.9 460.0,184.5 461.5,183.9 463.0,183.3 464.5,182.6 466.0,181.7 467.5,180.8 469.0,179.8 470.5,178.6 472.0,177.4 473.5,176.0 475.0,174.3 476.5,172.5 478.0,170.7 479.5,168.8 481.0,166.8 482.5,164.6 484.0,162.3 485.5,159.8 487.0,157.2 488.5,154.5 490.0,151.6 491.5,148.7 493.0,145.7 494.5,142.6 496.0,139.6 497.5,136.6 499.0,133.6 500.5,130.5 502.0,127.3 503.5,124.1 505.0,120.9 506.5,117.7 508.0,114.7 509.5,111.8 511.0,108.8 512.5,105.7 514.0,102.5 515.5,99.4 517.0,96.5 518.5,93.7 520.0,90.9 521.5,88.4 523.0,85.9 524.5,83.6 526.0,81.4 527.5,79.4 529.0,77.5 530.5,75.7 532.0,74.0 533.5,72.2 535.0,70.4 536.5,68.7 538.0,67.1 539.5,65.6 541.0,64.1 542.5,62.7 544.0,61.5 545.5,60.3 547.0,59.1 548.5,58.1 550.0,57.1 551.5,56.3 553.0,55.5 554.5,54.7 556.0,54.1 557.5,53.5 559.0,52.9 560.5,52.4 562.0,51.9 563.5,51.4 565.0,51.0 566.5,50.6 568.0,50.3 569.5,50.0 571.0,49.6 572.5,49.4 574.0,49.1 575.5,48.8 577.0,48.6 578.5,48.4 580.0,48.1 581.5,47.9 583.0,47.7 584.5,47.6 586.0,47.4 587.5,47.2 589.0,47.1 590.5,46.9 592.0,46.8 593.5,46.6 595.0,46.5 596.5,46.4 598.0,46.3 599.5,46.2 601.0,46.1 602.5,46.0 604.0,45.9 605.5,45.8 607.0,45.7 608.5,45.6 610.0,45.5 611.5,45.4 613.0,45.4 614.5,45.3 616.0,45.2 617.5,45.1 619.0,45.1 620.5,45.0 622.0,44.9 623.5,44.8 625.0,44.8 626.5,44.7 628.0,44.7 629.5,44.6 631.0,44.5 632.5,44.5 633.0,44.5" fill="none" stroke="#111111" stroke-width="1.9" stroke-linejoin="round" stroke-linecap="butt"/>
<polyline points="401.0,185.6 402.5,185.6 404.0,185.7 405.5,185.7 407.0,185.8 408.5,185.8 410.0,185.9 411.5,186.0 413.0,186.0 414.5,186.1 416.0,186.1 417.5,186.2 419.0,186.2 420.5,186.3 422.0,186.3 423.5,186.4 425.0,186.4 426.5,186.5 428.0,186.5 429.5,186.6 431.0,186.6 432.5,186.7 434.0,186.7 435.5,186.8 437.0,186.8 438.5,186.9 440.0,186.9 441.5,187.0 443.0,186.9 444.5,186.9 446.0,186.9 447.5,186.9 449.0,186.9 450.5,186.8 452.0,186.7 453.5,186.7 455.0,186.6 456.5,186.4 458.0,186.2 459.5,185.9 461.0,185.5 462.5,185.1 464.0,184.6 465.5,184.0 467.0,183.3 468.5,182.5 470.0,181.6 471.5,180.7 473.0,179.6 474.5,178.4 476.0,177.1 477.5,175.5 479.0,173.8 480.5,171.9 482.0,170.1 483.5,168.1 485.0,166.0 486.5,163.8 488.0,161.4 489.5,158.8 491.0,156.1 492.5,153.3 494.0,150.4 495.5,147.4 497.0,144.4 498.5,141.4 500.0,138.4 501.5,135.3 503.0,132.3 504.5,129.1 506.0,125.9 507.5,122.7 509.0,119.5 510.5,116.4 512.0,113.4 513.5,110.5 515.0,107.5 516.5,104.4 518.0,101.2 519.5,98.2 521.0,95.4 522.5,92.6 524.0,90.0 525.5,87.5 527.0,85.1 528.5,82.9 530.0,80.8 531.5,78.9 533.0,77.1 534.5,75.4 536.0,73.7 537.5,72.0 539.0,70.3 540.5,68.7 542.0,67.2 543.5,65.7 545.0,64.3 546.5,62.9 548.0,61.7 549.5,60.5 551.0,59.4 552.5,58.4 554.0,57.4 555.5,56.6 557.0,55.8 558.5,55.1 560.0,54.4 561.5,53.8 563.0,53.3 564.5,52.7 566.0,52.3 567.5,51.8 569.0,51.4 570.5,51.0 572.0,50.6 573.5,50.3 575.0,50.0 576.5,49.7 578.0,49.4 579.5,49.1 581.0,48.9 582.5,48.6 584.0,48.4 585.5,48.2 587.0,48.0 588.5,47.8 590.0,47.6 591.5,47.5 593.0,47.3 594.5,47.2 596.0,47.0 597.5,46.9 599.0,46.7 600.5,46.6 602.0,46.5 603.5,46.4 605.0,46.3 606.5,46.2 608.0,46.1 609.5,46.0 611.0,45.9 612.5,45.8 614.0,45.7 615.5,45.6 617.0,45.6 618.5,45.5 620.0,45.4 621.5,45.3 623.0,45.2 624.5,45.2 626.0,45.1 627.5,45.0 629.0,45.0 630.5,44.9 632.0,44.8 633.0,44.8" fill="none" stroke="#111111" stroke-width="1.9" stroke-linejoin="round" stroke-linecap="butt"/>
<polyline points="403.0,186.2 404.5,186.2 406.0,186.3 407.5,186.3 409.0,186.4 410.5,186.4 412.0,186.5 413.5,186.5 415.0,186.5 416.5,186.6 418.0,186.6 419.5,186.7 421.0,186.7 422.5,186.8 424.0,186.8 425.5,186.9 427.0,186.9 428.5,187.0 430.0,187.0 431.5,187.0 433.0,187.1 434.5,187.1 436.0,187.2 437.5,187.2 439.0,187.3 440.5,187.3 442.0,187.4 443.5,187.4 445.0,187.4 446.5,187.4 448.0,187.4 449.5,187.4 451.0,187.4 452.5,187.4 454.0,187.3 455.5,187.3 457.0,187.3 458.5,187.3 460.0,187.2 461.5,187.2 463.0,187.1 464.5,187.0 466.0,186.9 467.5,186.7 469.0,186.4 470.5,186.1 472.0,185.7 473.5,185.3 475.0,184.7 476.5,184.1 478.0,183.3 479.5,182.5 481.0,181.5 482.5,180.5 484.0,179.4 485.5,178.1 487.0,176.7 488.5,175.0 490.0,173.2 491.5,171.4 493.0,169.5 494.5,167.4 496.0,165.2 497.5,162.9 499.0,160.4 500.5,157.8 502.0,155.0 503.5,152.2 505.0,149.2 506.5,146.2 508.0,143.1 509.5,140.1 511.0,137.1 512.5,134.0 514.0,130.9 515.5,127.7 517.0,124.5 518.5,121.3 520.0,118.1 521.5,115.0 523.0,112.1 524.5,109.2 526.0,106.1 527.5,102.9 529.0,99.8 530.5,96.9 532.0,94.1 533.5,91.4 535.0,88.8 536.5,86.4 538.0,84.1 539.5,81.9 541.0,79.9 542.5,78.0 544.0,76.3 545.5,74.6 547.0,72.9 548.5,71.2 550.0,69.5 551.5,68.0 553.0,66.5 554.5,65.0 556.0,63.6 557.5,62.3 559.0,61.1 560.5,60.0 562.0,58.9 563.5,57.9 565.0,57.0 566.5,56.2 568.0,55.5 569.5,54.8 571.0,54.1 572.5,53.6 574.0,53.0 575.5,52.5 577.0,52.0 578.5,51.6 580.0,51.2 581.5,50.8 583.0,50.4 584.5,50.1 586.0,49.8 587.5,49.5 589.0,49.3 590.5,49.0 592.0,48.8 593.5,48.5 595.0,48.3 596.5,48.1 598.0,47.9 599.5,47.7 601.0,47.6 602.5,47.4 604.0,47.2 605.5,47.1 607.0,46.9 608.5,46.8 610.0,46.7 611.5,46.6 613.0,46.4 614.5,46.3 616.0,46.2 617.5,46.1 619.0,46.0 620.5,45.9 622.0,45.8 623.5,45.8 625.0,45.7 626.5,45.6 628.0,45.5 629.5,45.4 631.0,45.4 632.5,45.3 634.0,45.2 635.5,45.1 637.0,45.1 638.5,45.0 640.0,44.9 641.5,44.9 643.0,44.8 644.5,44.7 645.0,44.7" fill="none" stroke="#111111" stroke-width="1.9" stroke-linejoin="round" stroke-linecap="butt"/>
</g>
<!-- axes -->
<g stroke="#000" stroke-width="2" fill="none">
<path d="M43.8 23 V189.6 M42.8 188.6 H321"/>
<path d="M381 22 V189.9 M380 188.9 H660"/>
</g>
<!-- panel C -->
<rect x="160.8" y="363.4" width="384" height="44" fill="#151515"/>
<g class="serif" fill="#000">
<g font-size="13.2" stroke="#000" stroke-width="0.42">
<text x="234.2" y="315" textLength="17.8" lengthAdjust="spacingAndGlyphs" stroke-width="0.6"># 4</text>
<text x="336.7" y="315" textLength="24.1" lengthAdjust="spacingAndGlyphs" stroke-width="0.6"># 26</text>
<text x="204.2" y="333.2" textLength="22.8" lengthAdjust="spacingAndGlyphs">MN</text>
<text x="267" y="333.2" textLength="6.3" lengthAdjust="spacingAndGlyphs">T</text>
<text x="311.7" y="333.2" textLength="22.5" lengthAdjust="spacingAndGlyphs">MN</text>
<text x="375.8" y="333.2" textLength="6.2" lengthAdjust="spacingAndGlyphs">T</text>
<text x="423" y="333.4" textLength="20.2" lengthAdjust="spacingAndGlyphs">M+</text>
<text x="472.7" y="333.4" textLength="17.5" lengthAdjust="spacingAndGlyphs">U+</text>
<text x="512" y="333.4" textLength="26.7" lengthAdjust="spacingAndGlyphs">H<tspan font-size="11">2</tspan>O</text>
</g>
<g font-size="14" stroke="#000" stroke-width="0.7">
<text x="199.5" y="353.6" textLength="8.5" lengthAdjust="spacingAndGlyphs">U</text>
<text x="219.7" y="353.6" textLength="12.3" lengthAdjust="spacingAndGlyphs">M</text>
<text x="254.7" y="353.6" textLength="8.6" lengthAdjust="spacingAndGlyphs">U</text>
<text x="277.5" y="353.6" textLength="13.0" lengthAdjust="spacingAndGlyphs">M</text>
<text x="305.8" y="353.6" textLength="8.4" lengthAdjust="spacingAndGlyphs">U</text>
<text x="329.7" y="353.6" textLength="13.3" lengthAdjust="spacingAndGlyphs">M</text>
<text x="358" y="353.6" textLength="8.7" lengthAdjust="spacingAndGlyphs">U</text>
<text x="381.3" y="353.6" textLength="13.4" lengthAdjust="spacingAndGlyphs">M</text>
<text x="413.3" y="353.6" textLength="8.0" lengthAdjust="spacingAndGlyphs">U</text>
<text x="436.8" y="353.6" textLength="12.9" lengthAdjust="spacingAndGlyphs">M</text>
<text x="464.2" y="353.6" textLength="8.0" lengthAdjust="spacingAndGlyphs">U</text>
<text x="484.8" y="353.6" textLength="12.9" lengthAdjust="spacingAndGlyphs">M</text>
<text x="508.4" y="353.6" textLength="8.0" lengthAdjust="spacingAndGlyphs">U</text>
<text x="529.2" y="353.6" textLength="12.6" lengthAdjust="spacingAndGlyphs">M</text>
</g>
<g font-size="11.5" font-weight="bold">
<text x="124.2" y="370.6" textLength="34.7" lengthAdjust="spacingAndGlyphs">200 bp</text>
<text x="123.5" y="401.4" textLength="34.2" lengthAdjust="spacingAndGlyphs">100 bp</text>
</g>
</g>
<g stroke="#000" stroke-width="1.4" fill="none">
<path d="M196.7 317.8 H290.8 M303.7 317.8 H397.5"/>
<path d="M196.7 336.3 H233.8 M253.3 336.3 H290.8 M303.7 336.3 H340.8 M356.7 336.3 H393.7 M411.6 336.3 H448.5 M461.3 336.3 H498.2 M506 336.3 H542.5"/>
</g>
<!-- gel bands -->
<g fill="#f2f2f2">
<rect x="170.3" y="366.70" width="11.4" height="1.6" rx="0.80" fill="#d4d4d4"/>
<rect x="170.3" y="396.80" width="11.4" height="1.6" rx="0.80" fill="#d4d4d4"/>
<rect x="195.0" y="383.80" width="17.0" height="3.6" rx="1.00" fill="#f0f0f0"/>
<rect x="220.7" y="386.10" width="18.7" height="2.2" rx="1.00" fill="#d4d4d4"/>
<rect x="249.2" y="383.10" width="18.0" height="3.4" rx="1.00" fill="#f0f0f0"/>
<rect x="275.9" y="386.40" width="15.7" height="2.0" rx="1.00" fill="#d4d4d4"/>
<rect x="302.5" y="383.20" width="16.5" height="3.2" rx="1.00" fill="#f0f0f0"/>
<rect x="356.4" y="382.80" width="15.7" height="3.0" rx="1.00" fill="#f0f0f0"/>
<rect x="436.4" y="385.50" width="15.7" height="2.0" rx="1.00" fill="#d4d4d4"/>
<rect x="460.6" y="382.00" width="17.0" height="3.4" rx="1.00" fill="#f0f0f0"/>
</g>
</svg>
</body></html>
